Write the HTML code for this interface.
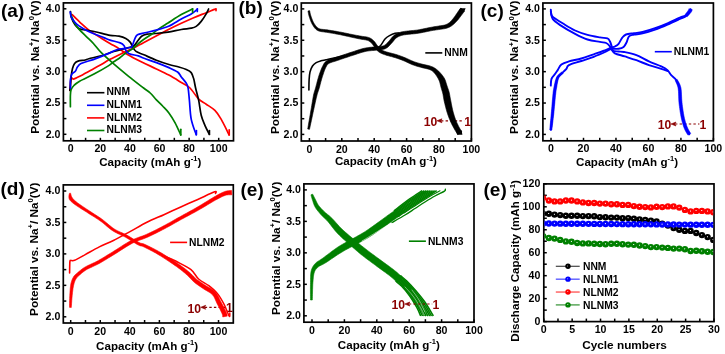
<!DOCTYPE html>
<html><head><meta charset="utf-8"><style>
html,body{margin:0;padding:0;background:#fff;}
svg{display:block;will-change:transform;}
text{font-family:"Liberation Sans", sans-serif;font-weight:bold;}
</style></head><body>
<svg width="725" height="354" viewBox="0 0 725 354">
<defs>
<radialGradient id="gk" cx="0.47" cy="0.45" r="0.5"><stop offset="0" stop-color="#fff"/><stop offset="0.02" stop-color="#fff"/><stop offset="0.3" stop-color="#000"/><stop offset="1" stop-color="#000"/></radialGradient>
<radialGradient id="gb" cx="0.47" cy="0.45" r="0.5"><stop offset="0" stop-color="#fff"/><stop offset="0.02" stop-color="#fff"/><stop offset="0.3" stop-color="#0000ff"/><stop offset="1" stop-color="#0000ff"/></radialGradient>
<radialGradient id="gr" cx="0.47" cy="0.45" r="0.5"><stop offset="0" stop-color="#fff"/><stop offset="0.02" stop-color="#fff"/><stop offset="0.3" stop-color="#ff0000"/><stop offset="1" stop-color="#ff0000"/></radialGradient>
<radialGradient id="gg" cx="0.47" cy="0.45" r="0.5"><stop offset="0" stop-color="#fff"/><stop offset="0.02" stop-color="#fff"/><stop offset="0.3" stop-color="#008000"/><stop offset="1" stop-color="#008000"/></radialGradient>
<clipPath id="cf"><rect x="544.5" y="184.7" width="168.7" height="136.2"/></clipPath>
</defs>
<rect width="725" height="354" fill="#fff"/>
<line x1="70.80" y1="140.8" x2="70.80" y2="137.8" stroke="#000" stroke-width="1.5"/>
<line x1="100.38" y1="140.8" x2="100.38" y2="137.8" stroke="#000" stroke-width="1.5"/>
<line x1="129.96" y1="140.8" x2="129.96" y2="137.8" stroke="#000" stroke-width="1.5"/>
<line x1="159.54" y1="140.8" x2="159.54" y2="137.8" stroke="#000" stroke-width="1.5"/>
<line x1="189.13" y1="140.8" x2="189.13" y2="137.8" stroke="#000" stroke-width="1.5"/>
<line x1="218.71" y1="140.8" x2="218.71" y2="137.8" stroke="#000" stroke-width="1.5"/>
<line x1="85.59" y1="140.8" x2="85.59" y2="137.8" stroke="#000" stroke-width="1.5"/>
<line x1="115.17" y1="140.8" x2="115.17" y2="137.8" stroke="#000" stroke-width="1.5"/>
<line x1="144.75" y1="140.8" x2="144.75" y2="137.8" stroke="#000" stroke-width="1.5"/>
<line x1="174.33" y1="140.8" x2="174.33" y2="137.8" stroke="#000" stroke-width="1.5"/>
<line x1="203.92" y1="140.8" x2="203.92" y2="137.8" stroke="#000" stroke-width="1.5"/>
<line x1="63.4" y1="134.30" x2="66.4" y2="134.30" stroke="#000" stroke-width="1.5"/>
<line x1="63.4" y1="102.93" x2="66.4" y2="102.93" stroke="#000" stroke-width="1.5"/>
<line x1="63.4" y1="71.55" x2="66.4" y2="71.55" stroke="#000" stroke-width="1.5"/>
<line x1="63.4" y1="40.17" x2="66.4" y2="40.17" stroke="#000" stroke-width="1.5"/>
<line x1="63.4" y1="8.80" x2="66.4" y2="8.80" stroke="#000" stroke-width="1.5"/>
<line x1="63.4" y1="118.61" x2="66.4" y2="118.61" stroke="#000" stroke-width="1.5"/>
<line x1="63.4" y1="87.24" x2="66.4" y2="87.24" stroke="#000" stroke-width="1.5"/>
<line x1="63.4" y1="55.86" x2="66.4" y2="55.86" stroke="#000" stroke-width="1.5"/>
<line x1="63.4" y1="24.49" x2="66.4" y2="24.49" stroke="#000" stroke-width="1.5"/>
<rect x="63.4" y="2.9" width="170.1" height="137.9" fill="none" stroke="#000" stroke-width="1.7"/>
<text x="70.80" y="152.3" font-size="10.6" text-anchor="middle" fill="#000" >0</text>
<text x="100.38" y="152.3" font-size="10.6" text-anchor="middle" fill="#000" >20</text>
<text x="129.96" y="152.3" font-size="10.6" text-anchor="middle" fill="#000" >40</text>
<text x="159.54" y="152.3" font-size="10.6" text-anchor="middle" fill="#000" >60</text>
<text x="189.13" y="152.3" font-size="10.6" text-anchor="middle" fill="#000" >80</text>
<text x="218.71" y="152.3" font-size="10.6" text-anchor="middle" fill="#000" >100</text>
<text x="60.40" y="137.70" font-size="10.6" text-anchor="end" fill="#000" >2.0</text>
<text x="60.40" y="106.33" font-size="10.6" text-anchor="end" fill="#000" >2.5</text>
<text x="60.40" y="74.95" font-size="10.6" text-anchor="end" fill="#000" >3.0</text>
<text x="60.40" y="43.57" font-size="10.6" text-anchor="end" fill="#000" >3.5</text>
<text x="60.40" y="12.20" font-size="10.6" text-anchor="end" fill="#000" >4.0</text>
<text x="150.25" y="165.60" font-size="11.6" text-anchor="middle">Capacity (mAh g<tspan font-size="7.5" dy="-4.5">-1</tspan><tspan dy="4.5">)</tspan></text>
<text transform="translate(38.80,67.15) rotate(-90)" x="0" y="0" font-size="11.75" text-anchor="middle">Potential vs. Na<tspan font-size="7.6" dy="-4.4">+</tspan><tspan dy="4.4">/ Na</tspan><tspan font-size="7.6" dy="-4.4">0</tspan><tspan dy="4.4">(V)</tspan></text>
<text x="1.0" y="16.6" font-size="19" text-anchor="start" fill="#000" >(a)</text>
<path d="M72.10,14.60C73.45,15.93 77.40,20.02 80.20,22.60C83.00,25.18 85.38,27.50 88.90,30.10C92.42,32.70 97.78,35.97 101.30,38.20C104.82,40.43 107.05,41.77 110.00,43.50C112.95,45.23 116.17,46.82 119.00,48.60C121.83,50.38 123.22,51.97 127.00,54.20C130.78,56.43 136.80,59.55 141.70,62.00C146.60,64.45 151.87,66.72 156.40,68.90C160.93,71.08 164.75,72.83 168.90,75.10C173.05,77.37 177.78,80.35 181.30,82.50C184.82,84.65 187.10,85.22 190.00,88.00C192.90,90.78 196.00,96.50 198.70,99.20C201.40,101.90 203.50,102.33 206.20,104.20C208.90,106.07 212.42,107.92 214.90,110.40C217.38,112.88 218.73,115.03 221.10,119.10C223.47,123.17 227.77,132.18 229.10,134.80" fill="none" stroke="#ff0000" stroke-width="1.7" stroke-linejoin="round" stroke-linecap="round" />
<path d="M69.90,90.40C70.10,88.40 70.55,80.28 71.10,78.40C71.65,76.52 72.27,79.22 73.20,79.10C74.13,78.98 75.17,78.40 76.70,77.70C78.23,77.00 79.52,76.43 82.40,74.90C85.28,73.37 90.85,70.23 94.00,68.50C97.15,66.77 98.63,66.03 101.30,64.50C103.97,62.97 106.67,61.10 110.00,59.30C113.33,57.50 117.47,55.53 121.30,53.70C125.13,51.87 129.23,50.18 133.00,48.30C136.77,46.42 139.65,44.65 143.90,42.40C148.15,40.15 154.40,36.95 158.50,34.80C162.60,32.65 164.70,31.42 168.50,29.50C172.30,27.58 177.10,25.27 181.30,23.30C185.50,21.33 189.55,19.47 193.70,17.70C197.85,15.93 202.88,14.05 206.20,12.70C209.52,11.35 212.05,10.22 213.60,9.60C215.15,8.98 215.18,9.10 215.50,9.00" fill="none" stroke="#ff0000" stroke-width="1.7" stroke-linejoin="round" stroke-linecap="round" />
<path d="M70.50,11.50C70.67,12.53 70.72,15.43 71.50,17.70C72.28,19.97 73.87,23.23 75.20,25.10C76.53,26.97 77.63,28.07 79.50,28.90C81.37,29.73 83.60,29.58 86.40,30.10C89.20,30.62 92.37,31.13 96.30,32.00C100.23,32.87 106.22,34.62 110.00,35.30C113.78,35.98 116.37,35.58 119.00,36.10C121.63,36.62 123.90,37.35 125.80,38.40C127.70,39.45 129.27,40.98 130.40,42.40C131.53,43.82 131.67,45.40 132.60,46.90C133.53,48.40 134.12,50.08 136.00,51.40C137.88,52.72 140.50,53.33 143.90,54.80C147.30,56.27 152.23,58.58 156.40,60.20C160.57,61.82 165.17,63.37 168.90,64.50C172.63,65.63 175.90,66.17 178.80,67.00C181.70,67.83 184.23,68.57 186.30,69.50C188.37,70.43 189.97,71.05 191.20,72.60C192.43,74.15 192.97,76.23 193.70,78.80C194.43,81.37 194.77,84.40 195.60,88.00C196.43,91.60 197.77,95.85 198.70,100.40C199.63,104.95 200.17,111.15 201.20,115.30C202.23,119.45 203.55,122.15 204.90,125.30C206.25,128.45 208.57,132.72 209.30,134.20" fill="none" stroke="#000000" stroke-width="1.7" stroke-linejoin="round" stroke-linecap="round" />
<path d="M69.90,90.40C69.98,89.67 70.20,88.23 70.40,86.00C70.60,83.77 70.75,79.92 71.10,77.00C71.45,74.08 71.92,70.75 72.50,68.50C73.08,66.25 73.67,64.73 74.60,63.50C75.53,62.27 76.33,61.68 78.10,61.10C79.87,60.52 83.40,60.40 85.20,60.00C87.00,59.60 86.22,59.40 88.90,58.70C91.58,58.00 97.17,57.00 101.30,55.80C105.43,54.60 109.80,52.70 113.70,51.50C117.60,50.30 121.73,49.38 124.70,48.60C127.67,47.82 129.87,47.35 131.50,46.80C133.13,46.25 133.38,46.38 134.50,45.30C135.62,44.22 137.02,41.82 138.20,40.30C139.38,38.78 140.13,37.22 141.60,36.20C143.07,35.18 144.75,34.65 147.00,34.20C149.25,33.75 151.60,33.85 155.10,33.50C158.60,33.15 163.63,32.77 168.00,32.10C172.37,31.43 177.43,30.15 181.30,29.50C185.17,28.85 188.72,28.72 191.20,28.20C193.68,27.68 194.53,27.53 196.20,26.40C197.87,25.27 199.53,23.48 201.20,21.40C202.87,19.32 204.97,15.97 206.20,13.90C207.43,11.83 208.20,9.82 208.60,9.00" fill="none" stroke="#000000" stroke-width="1.7" stroke-linejoin="round" stroke-linecap="round" />
<path d="M70.80,14.70C71.37,15.92 72.88,19.63 74.20,22.00C75.52,24.37 76.63,26.43 78.70,28.90C80.77,31.37 84.15,34.37 86.60,36.80C89.05,39.23 90.95,40.85 93.40,43.50C95.85,46.15 97.92,49.30 101.30,52.70C104.68,56.10 109.15,59.97 113.70,63.90C118.25,67.83 123.62,72.28 128.60,76.30C133.58,80.32 140.00,85.22 143.60,88.00C147.20,90.78 148.07,91.03 150.20,93.00C152.33,94.97 154.33,97.63 156.40,99.80C158.47,101.97 160.52,103.82 162.60,106.00C164.68,108.18 166.82,110.10 168.90,112.90C170.98,115.70 173.13,119.15 175.10,122.80C177.07,126.45 179.77,132.80 180.70,134.80" fill="none" stroke="#008000" stroke-width="1.7" stroke-linejoin="round" stroke-linecap="round" />
<path d="M70.40,106.70C70.40,104.82 70.28,98.23 70.40,95.40C70.52,92.57 70.52,91.35 71.10,89.70C71.68,88.05 72.48,86.92 73.90,85.50C75.32,84.08 76.25,83.10 79.60,81.20C82.95,79.30 89.35,76.57 94.00,74.10C98.65,71.63 104.27,68.42 107.50,66.40C110.73,64.38 111.33,63.45 113.40,62.00C115.47,60.55 118.02,59.07 119.90,57.70C121.78,56.33 122.77,55.17 124.70,53.80C126.63,52.43 130.05,50.47 131.50,49.50C132.95,48.53 131.72,49.42 133.40,48.00C135.08,46.58 138.55,43.30 141.60,41.00C144.65,38.70 148.88,36.18 151.70,34.20C154.52,32.22 155.78,30.97 158.50,29.10C161.22,27.23 164.20,25.42 168.00,23.00C171.80,20.58 177.22,16.93 181.30,14.60C185.38,12.27 190.63,9.93 192.50,9.00" fill="none" stroke="#008000" stroke-width="1.7" stroke-linejoin="round" stroke-linecap="round" />
<path d="M70.20,12.10C70.42,13.03 70.47,15.73 71.50,17.70C72.53,19.67 74.33,22.03 76.40,23.90C78.47,25.77 81.20,27.35 83.90,28.90C86.60,30.45 89.28,31.75 92.60,33.20C95.92,34.65 100.90,36.45 103.80,37.60C106.70,38.75 107.27,39.22 110.00,40.10C112.73,40.98 117.85,41.95 120.20,42.90C122.55,43.85 123.17,44.57 124.10,45.80C125.03,47.03 124.95,48.98 125.80,50.30C126.65,51.62 127.12,52.77 129.20,53.70C131.28,54.63 135.83,55.13 138.30,55.90C140.77,56.67 140.98,57.18 144.00,58.30C147.02,59.42 152.25,61.05 156.40,62.60C160.55,64.15 165.37,66.03 168.90,67.60C172.43,69.17 175.53,70.45 177.60,72.00C179.67,73.55 179.85,75.03 181.30,76.90C182.75,78.77 185.17,81.35 186.30,83.20C187.43,85.05 187.58,85.13 188.10,88.00C188.62,90.87 188.88,95.22 189.40,100.40C189.92,105.58 190.07,113.37 191.20,119.10C192.33,124.83 195.37,132.18 196.20,134.80" fill="none" stroke="#0000ff" stroke-width="1.7" stroke-linejoin="round" stroke-linecap="round" />
<path d="M70.40,88.30C70.40,86.88 70.17,82.17 70.40,79.80C70.63,77.43 70.98,75.52 71.80,74.10C72.62,72.68 74.37,72.47 75.30,71.30C76.23,70.13 76.45,68.40 77.40,67.10C78.35,65.80 78.98,64.57 81.00,63.50C83.02,62.43 87.15,61.47 89.50,60.70C91.85,59.93 92.10,60.03 95.10,58.90C98.10,57.77 103.88,55.43 107.50,53.90C111.12,52.37 114.12,50.58 116.80,49.70C119.48,48.82 121.33,48.97 123.60,48.60C125.87,48.23 128.98,47.90 130.40,47.50C131.82,47.10 131.37,47.63 132.10,46.20C132.83,44.77 133.90,40.80 134.80,38.90C135.70,37.00 135.80,35.82 137.50,34.80C139.20,33.78 142.07,33.53 145.00,32.80C147.93,32.07 151.18,31.48 155.10,30.40C159.02,29.32 164.13,28.22 168.50,26.30C172.87,24.38 177.52,20.97 181.30,18.90C185.08,16.83 188.72,15.35 191.20,13.90C193.68,12.45 195.17,11.02 196.20,10.20C197.23,9.38 197.20,9.20 197.40,9.00" fill="none" stroke="#0000ff" stroke-width="1.7" stroke-linejoin="round" stroke-linecap="round" />
<line x1="180.8" y1="129.3" x2="180.8" y2="134.9" stroke="#008000" stroke-width="1.7" stroke-linecap="round"/>
<line x1="196.4" y1="130.6" x2="196.4" y2="134.6" stroke="#0000ff" stroke-width="1.7" stroke-linecap="round"/>
<line x1="209.4" y1="130.6" x2="209.4" y2="134.4" stroke="#000000" stroke-width="1.7" stroke-linecap="round"/>
<line x1="229.2" y1="129.8" x2="229.2" y2="134.9" stroke="#ff0000" stroke-width="1.7" stroke-linecap="round"/>
<line x1="192.6" y1="8.8" x2="192.6" y2="12.4" stroke="#008000" stroke-width="1.7" stroke-linecap="round"/>
<line x1="197.3" y1="8.8" x2="197.3" y2="11.4" stroke="#0000ff" stroke-width="1.7" stroke-linecap="round"/>
<line x1="216.0" y1="8.8" x2="216.0" y2="10.6" stroke="#ff0000" stroke-width="1.7" stroke-linecap="round"/>
<line x1="87" y1="92.70" x2="104.4" y2="92.70" stroke="#000000" stroke-width="1.6"/>
<text x="106.6" y="95.30" font-size="10.3" text-anchor="start" fill="#000" >NNM</text>
<line x1="87" y1="105.30" x2="104.4" y2="105.30" stroke="#0000ff" stroke-width="1.6"/>
<text x="106.6" y="107.90" font-size="10.3" text-anchor="start" fill="#000" >NLNM1</text>
<line x1="87" y1="117.90" x2="104.4" y2="117.90" stroke="#ff0000" stroke-width="1.6"/>
<text x="106.6" y="120.50" font-size="10.3" text-anchor="start" fill="#000" >NLNM2</text>
<line x1="87" y1="130.50" x2="104.4" y2="130.50" stroke="#008000" stroke-width="1.6"/>
<text x="106.6" y="133.10" font-size="10.3" text-anchor="start" fill="#000" >NLNM3</text>
<line x1="309.40" y1="141.0" x2="309.40" y2="138.0" stroke="#000" stroke-width="1.5"/>
<line x1="341.80" y1="141.0" x2="341.80" y2="138.0" stroke="#000" stroke-width="1.5"/>
<line x1="374.20" y1="141.0" x2="374.20" y2="138.0" stroke="#000" stroke-width="1.5"/>
<line x1="406.60" y1="141.0" x2="406.60" y2="138.0" stroke="#000" stroke-width="1.5"/>
<line x1="439.00" y1="141.0" x2="439.00" y2="138.0" stroke="#000" stroke-width="1.5"/>
<line x1="471.40" y1="141.0" x2="471.40" y2="138.0" stroke="#000" stroke-width="1.5"/>
<line x1="325.60" y1="141.0" x2="325.60" y2="138.0" stroke="#000" stroke-width="1.5"/>
<line x1="358.00" y1="141.0" x2="358.00" y2="138.0" stroke="#000" stroke-width="1.5"/>
<line x1="390.40" y1="141.0" x2="390.40" y2="138.0" stroke="#000" stroke-width="1.5"/>
<line x1="422.80" y1="141.0" x2="422.80" y2="138.0" stroke="#000" stroke-width="1.5"/>
<line x1="455.20" y1="141.0" x2="455.20" y2="138.0" stroke="#000" stroke-width="1.5"/>
<line x1="301.3" y1="134.40" x2="304.3" y2="134.40" stroke="#000" stroke-width="1.5"/>
<line x1="301.3" y1="103.03" x2="304.3" y2="103.03" stroke="#000" stroke-width="1.5"/>
<line x1="301.3" y1="71.65" x2="304.3" y2="71.65" stroke="#000" stroke-width="1.5"/>
<line x1="301.3" y1="40.28" x2="304.3" y2="40.28" stroke="#000" stroke-width="1.5"/>
<line x1="301.3" y1="8.90" x2="304.3" y2="8.90" stroke="#000" stroke-width="1.5"/>
<line x1="301.3" y1="118.71" x2="304.3" y2="118.71" stroke="#000" stroke-width="1.5"/>
<line x1="301.3" y1="87.34" x2="304.3" y2="87.34" stroke="#000" stroke-width="1.5"/>
<line x1="301.3" y1="55.96" x2="304.3" y2="55.96" stroke="#000" stroke-width="1.5"/>
<line x1="301.3" y1="24.59" x2="304.3" y2="24.59" stroke="#000" stroke-width="1.5"/>
<rect x="301.3" y="3.0" width="170.09999999999997" height="138.0" fill="none" stroke="#000" stroke-width="1.7"/>
<text x="309.40" y="152.5" font-size="10.6" text-anchor="middle" fill="#000" >0</text>
<text x="341.80" y="152.5" font-size="10.6" text-anchor="middle" fill="#000" >20</text>
<text x="374.20" y="152.5" font-size="10.6" text-anchor="middle" fill="#000" >40</text>
<text x="406.60" y="152.5" font-size="10.6" text-anchor="middle" fill="#000" >60</text>
<text x="439.00" y="152.5" font-size="10.6" text-anchor="middle" fill="#000" >80</text>
<text x="471.40" y="152.5" font-size="10.6" text-anchor="middle" fill="#000" >100</text>
<text x="298.30" y="137.80" font-size="10.6" text-anchor="end" fill="#000" >2.0</text>
<text x="298.30" y="106.43" font-size="10.6" text-anchor="end" fill="#000" >2.5</text>
<text x="298.30" y="75.05" font-size="10.6" text-anchor="end" fill="#000" >3.0</text>
<text x="298.30" y="43.68" font-size="10.6" text-anchor="end" fill="#000" >3.5</text>
<text x="298.30" y="12.30" font-size="10.6" text-anchor="end" fill="#000" >4.0</text>
<text x="385.95" y="165.40" font-size="11.6" text-anchor="middle">Capacity (mAh g<tspan font-size="7.5" dy="-4.5">-1</tspan><tspan dy="4.5">)</tspan></text>
<text transform="translate(278.50,67.30) rotate(-90)" x="0" y="0" font-size="11.75" text-anchor="middle">Potential vs. Na<tspan font-size="7.6" dy="-4.4">+</tspan><tspan dy="4.4">/ Na</tspan><tspan font-size="7.6" dy="-4.4">0</tspan><tspan dy="4.4">(V)</tspan></text>
<text x="238.5" y="13.9" font-size="19" text-anchor="start" fill="#000" >(b)</text>
<text x="423.80" y="126.00" font-size="12.2" text-anchor="start" fill="#8b0000" >10</text>
<path d="M437.00,120.80 L442.00,118.80 L440.80,120.80 L442.00,122.80Z" fill="#8b0000" stroke="#8b0000" stroke-width="0.6"/>
<line x1="441.00" y1="120.80" x2="464.10" y2="120.80" stroke="#8b0000" stroke-width="1.2" stroke-dasharray="2.4,2.2"/>
<text x="464.30" y="125.80" font-size="12.2" text-anchor="start" fill="#8b0000" >1</text>
<path d="M307.97,10.97 L308.05,11.39 L308.14,11.92 L308.26,12.57 L308.40,13.31 L308.56,14.11 L308.76,14.95 L308.98,15.82 L309.24,16.68 L309.52,17.55 L309.83,18.49 L310.17,19.48 L310.53,20.49 L310.93,21.52 L311.37,22.53 L311.84,23.50 L312.34,24.41 L312.85,25.26 L313.37,26.10 L313.92,26.94 L314.52,27.75 L315.18,28.53 L315.92,29.27 L316.74,29.94 L317.67,30.52 L318.69,30.98 L319.74,31.31 L320.83,31.54 L321.94,31.71 L323.08,31.85 L324.24,31.98 L325.44,32.13 L326.70,32.33 L328.06,32.57 L329.53,32.82 L331.06,33.08 L332.64,33.34 L334.25,33.61 L335.87,33.89 L337.48,34.18 L339.06,34.48 L340.64,34.80 L342.28,35.15 L343.94,35.52 L345.61,35.89 L347.24,36.27 L348.82,36.62 L350.32,36.96 L351.71,37.27 L352.98,37.55 L354.16,37.80 L355.25,38.04 L356.29,38.26 L357.29,38.47 L358.26,38.67 L359.24,38.87 L360.24,39.08 L361.27,39.26 L362.31,39.41 L363.32,39.55 L364.29,39.69 L365.21,39.82 L366.06,39.98 L366.82,40.16 L367.50,40.37 L368.11,40.61 L368.66,40.87 L369.16,41.15 L369.62,41.45 L370.07,41.78 L370.50,42.14 L370.95,42.54 L371.39,42.95 L371.79,43.36 L372.18,43.82 L372.56,44.33 L372.95,44.89 L373.35,45.48 L373.76,46.08 L374.19,46.69 L374.63,47.27 L375.03,47.79 L375.40,48.30 L375.78,48.83 L376.19,49.38 L376.63,49.94 L377.13,50.50 L377.70,51.05 L378.33,51.57 L378.96,52.03 L379.60,52.44 L380.27,52.83 L380.97,53.19 L381.73,53.54 L382.55,53.89 L383.46,54.24 L384.48,54.61 L385.66,55.01 L387.00,55.41 L388.43,55.80 L389.91,56.20 L391.41,56.60 L392.87,57.00 L394.25,57.39 L395.51,57.78 L396.67,58.15 L397.77,58.52 L398.82,58.89 L399.84,59.25 L400.84,59.63 L401.83,60.01 L402.84,60.41 L403.87,60.83 L404.90,61.27 L405.93,61.74 L406.98,62.24 L408.04,62.75 L409.11,63.26 L410.20,63.76 L411.29,64.24 L412.39,64.69 L413.49,65.09 L414.57,65.46 L415.64,65.81 L416.71,66.13 L417.77,66.45 L418.83,66.75 L419.89,67.04 L420.96,67.34 L422.07,67.64 L423.22,67.92 L424.38,68.18 L425.51,68.44 L426.60,68.69 L427.62,68.94 L428.53,69.20 L429.34,69.46 L430.02,69.74 L430.62,70.01 L431.13,70.27 L431.58,70.53 L432.00,70.81 L432.40,71.11 L432.83,71.45 L433.29,71.83 L433.73,72.26 L434.15,72.71 L434.57,73.19 L434.98,73.70 L435.39,74.24 L435.80,74.79 L436.20,75.37 L436.60,75.97 L437.00,76.60 L437.40,77.24 L437.79,77.89 L438.16,78.56 L438.51,79.22 L438.83,79.89 L439.11,80.55 L439.36,81.20 L439.60,81.83 L439.81,82.50 L440.01,83.22 L440.20,83.98 L440.39,84.79 L440.59,85.64 L440.80,86.52 L441.03,87.40 L441.28,88.26 L441.53,89.09 L441.78,89.90 L442.02,90.70 L442.25,91.48 L442.47,92.25 L442.67,93.01 L442.84,93.77 L443.00,94.50 L443.14,95.21 L443.26,95.95 L443.38,96.73 L443.51,97.57 L443.66,98.51 L443.85,99.54 L444.07,100.67 L444.37,101.90 L444.69,103.25 L445.04,104.70 L445.41,106.21 L445.80,107.74 L446.20,109.25 L446.60,110.72 L447.01,112.10 L447.42,113.39 L447.84,114.64 L448.26,115.85 L448.70,117.03 L449.14,118.17 L449.59,119.28 L450.04,120.36 L450.50,121.41 L450.96,122.46 L451.44,123.48 L451.92,124.47 L452.40,125.42 L452.89,126.33 L453.36,127.21 L453.83,128.06 L454.30,128.89 L454.78,129.73 L455.28,130.58 L455.79,131.41 L456.28,132.19 L456.75,132.91 L457.16,133.54 L457.50,134.06 L457.76,134.46 L461.84,131.94 L461.60,131.51 L461.27,130.96 L460.88,130.33 L460.45,129.62 L460.00,128.86 L459.55,128.08 L459.11,127.29 L458.70,126.51 L458.30,125.71 L457.90,124.87 L457.48,124.01 L457.07,123.13 L456.67,122.23 L456.27,121.31 L455.88,120.36 L455.50,119.39 L455.14,118.37 L454.78,117.33 L454.43,116.27 L454.09,115.17 L453.75,114.05 L453.42,112.90 L453.10,111.72 L452.79,110.50 L452.48,109.20 L452.17,107.80 L451.86,106.33 L451.56,104.83 L451.27,103.34 L451.00,101.90 L450.75,100.54 L450.53,99.33 L450.31,98.29 L450.14,97.36 L449.99,96.50 L449.85,95.67 L449.70,94.85 L449.55,94.02 L449.37,93.14 L449.16,92.23 L448.90,91.32 L448.63,90.43 L448.35,89.58 L448.06,88.74 L447.78,87.93 L447.50,87.14 L447.23,86.36 L446.97,85.60 L446.72,84.85 L446.48,84.06 L446.24,83.24 L445.99,82.39 L445.71,81.51 L445.40,80.61 L445.05,79.70 L444.64,78.80 L444.16,77.96 L443.66,77.16 L443.13,76.39 L442.59,75.66 L442.04,74.95 L441.49,74.28 L440.94,73.64 L440.40,73.03 L439.85,72.43 L439.30,71.85 L438.73,71.28 L438.15,70.72 L437.56,70.19 L436.96,69.69 L436.33,69.21 L435.71,68.77 L435.13,68.36 L434.56,67.98 L433.99,67.63 L433.38,67.30 L432.74,67.00 L432.05,66.71 L431.31,66.43 L430.46,66.14 L429.51,65.85 L428.48,65.57 L427.39,65.32 L426.26,65.07 L425.12,64.83 L423.99,64.58 L422.90,64.33 L421.84,64.06 L420.80,63.77 L419.76,63.48 L418.72,63.18 L417.69,62.88 L416.66,62.56 L415.64,62.23 L414.62,61.88 L413.61,61.51 L412.59,61.11 L411.57,60.68 L410.53,60.21 L409.47,59.72 L408.40,59.22 L407.32,58.72 L406.23,58.23 L405.13,57.77 L404.07,57.35 L403.03,56.94 L402.01,56.54 L400.98,56.16 L399.92,55.78 L398.84,55.40 L397.70,55.02 L396.49,54.62 L395.17,54.23 L393.73,53.84 L392.24,53.45 L390.74,53.06 L389.27,52.68 L387.88,52.30 L386.61,51.94 L385.52,51.59 L384.58,51.25 L383.75,50.92 L383.02,50.62 L382.38,50.32 L381.81,50.02 L381.28,49.71 L380.77,49.38 L380.27,49.03 L379.83,48.67 L379.45,48.29 L379.08,47.88 L378.73,47.43 L378.37,46.95 L377.99,46.43 L377.59,45.87 L377.17,45.33 L376.77,44.81 L376.39,44.26 L376.00,43.68 L375.59,43.07 L375.15,42.45 L374.68,41.83 L374.16,41.22 L373.61,40.65 L373.07,40.16 L372.54,39.71 L371.98,39.27 L371.39,38.85 L370.75,38.45 L370.06,38.08 L369.32,37.74 L368.50,37.43 L367.60,37.17 L366.66,36.96 L365.69,36.80 L364.71,36.66 L363.71,36.54 L362.72,36.42 L361.74,36.28 L360.76,36.12 L359.79,35.95 L358.83,35.78 L357.85,35.60 L356.86,35.42 L355.83,35.22 L354.73,35.01 L353.56,34.78 L352.29,34.53 L350.90,34.25 L349.41,33.94 L347.82,33.60 L346.18,33.26 L344.51,32.90 L342.82,32.56 L341.16,32.23 L339.54,31.92 L337.94,31.63 L336.31,31.35 L334.68,31.08 L333.06,30.82 L331.47,30.57 L329.94,30.33 L328.48,30.10 L327.10,29.87 L325.78,29.68 L324.51,29.54 L323.33,29.43 L322.23,29.33 L321.23,29.20 L320.31,29.03 L319.48,28.80 L318.73,28.48 L318.03,28.07 L317.37,27.59 L316.76,27.02 L316.18,26.39 L315.63,25.69 L315.09,24.95 L314.57,24.17 L314.06,23.39 L313.58,22.58 L313.13,21.70 L312.71,20.77 L312.30,19.81 L311.93,18.84 L311.58,17.88 L311.25,16.97 L310.96,16.12 L310.70,15.32 L310.48,14.52 L310.28,13.72 L310.11,12.95 L309.97,12.24 L309.84,11.60 L309.73,11.05 L309.63,10.63Z" fill="#000000" stroke="#000000" stroke-width="0.6" stroke-linejoin="round"/>
<path d="M309.48,129.37 L309.82,127.87 L310.27,125.83 L310.78,123.40 L311.35,120.72 L311.94,117.92 L312.52,115.15 L313.08,112.55 L313.58,110.25 L314.03,108.16 L314.47,106.12 L314.90,104.14 L315.32,102.25 L315.72,100.45 L316.11,98.76 L316.49,97.20 L316.86,95.78 L317.16,94.58 L317.44,93.61 L317.69,92.80 L317.94,92.07 L318.20,91.33 L318.48,90.53 L318.79,89.60 L319.13,88.49 L319.49,87.20 L319.86,85.79 L320.24,84.30 L320.64,82.76 L321.05,81.21 L321.47,79.69 L321.89,78.22 L322.31,76.85 L322.74,75.50 L323.19,74.15 L323.64,72.81 L324.11,71.51 L324.57,70.27 L325.03,69.12 L325.48,68.09 L325.92,67.17 L326.33,66.38 L326.69,65.73 L327.00,65.22 L327.28,64.83 L327.56,64.51 L327.91,64.19 L328.36,63.85 L328.96,63.47 L329.65,63.09 L330.42,62.75 L331.29,62.43 L332.27,62.11 L333.36,61.77 L334.57,61.40 L335.90,60.99 L337.34,60.51 L338.93,59.97 L340.68,59.37 L342.56,58.73 L344.52,58.07 L346.52,57.40 L348.50,56.74 L350.42,56.11 L352.23,55.52 L353.97,54.95 L355.69,54.38 L357.37,53.82 L359.02,53.29 L360.62,52.78 L362.17,52.32 L363.66,51.91 L365.08,51.56 L366.44,51.27 L367.77,51.05 L369.06,50.87 L370.32,50.73 L371.54,50.61 L372.73,50.51 L373.88,50.40 L374.97,50.29 L375.97,50.19 L376.90,50.12 L377.79,50.07 L378.65,50.02 L379.49,49.97 L380.31,49.90 L381.13,49.81 L381.92,49.67 L382.64,49.52 L383.30,49.37 L383.93,49.20 L384.56,49.00 L385.19,48.75 L385.81,48.46 L386.43,48.11 L387.08,47.69 L387.73,47.19 L388.37,46.64 L388.99,46.05 L389.59,45.43 L390.17,44.80 L390.74,44.17 L391.29,43.56 L391.86,42.94 L392.45,42.28 L393.02,41.58 L393.57,40.88 L394.10,40.21 L394.62,39.57 L395.13,38.99 L395.64,38.48 L396.15,38.03 L396.71,37.63 L397.29,37.26 L397.90,36.91 L398.54,36.59 L399.19,36.30 L399.88,36.02 L400.59,35.76 L401.31,35.52 L402.02,35.31 L402.71,35.14 L403.42,35.00 L404.17,34.87 L404.97,34.76 L405.84,34.64 L406.79,34.52 L407.81,34.39 L408.89,34.26 L410.02,34.15 L411.23,34.04 L412.51,33.94 L413.86,33.82 L415.27,33.67 L416.74,33.50 L418.26,33.28 L419.89,33.00 L421.64,32.67 L423.47,32.31 L425.33,31.93 L427.16,31.54 L428.92,31.18 L430.55,30.85 L432.01,30.57 L433.30,30.35 L434.48,30.16 L435.57,30.00 L436.58,29.86 L437.54,29.72 L438.47,29.60 L439.38,29.47 L440.28,29.33 L441.14,29.20 L441.95,29.08 L442.74,28.98 L443.52,28.87 L444.28,28.74 L445.04,28.60 L445.80,28.43 L446.54,28.22 L447.25,28.00 L447.91,27.76 L448.56,27.51 L449.19,27.23 L449.81,26.92 L450.43,26.57 L451.04,26.19 L451.67,25.76 L452.32,25.29 L452.97,24.78 L453.61,24.23 L454.25,23.66 L454.87,23.07 L455.48,22.47 L456.07,21.86 L456.66,21.24 L457.25,20.58 L457.84,19.88 L458.42,19.17 L458.98,18.45 L459.52,17.76 L460.03,17.09 L460.50,16.48 L460.94,15.91 L461.35,15.37 L461.74,14.84 L462.10,14.35 L462.44,13.89 L462.74,13.48 L463.01,13.11 L463.26,12.80 L463.46,12.55 L463.62,12.36 L463.74,12.22 L463.84,12.12 L463.93,12.04 L464.01,11.97 L464.11,11.88 L464.26,11.76 L464.39,11.64 L461.01,7.96 L460.97,7.99 L460.92,8.04 L460.78,8.16 L460.58,8.32 L460.35,8.54 L460.10,8.80 L459.82,9.11 L459.54,9.45 L459.26,9.83 L458.99,10.23 L458.71,10.65 L458.41,11.09 L458.11,11.56 L457.78,12.04 L457.44,12.55 L457.06,13.09 L456.65,13.69 L456.21,14.35 L455.75,15.03 L455.27,15.73 L454.78,16.43 L454.30,17.11 L453.81,17.76 L453.34,18.36 L452.85,18.96 L452.34,19.56 L451.83,20.15 L451.32,20.72 L450.81,21.26 L450.30,21.76 L449.81,22.22 L449.33,22.64 L448.85,23.01 L448.39,23.33 L447.94,23.62 L447.50,23.88 L447.03,24.13 L446.55,24.35 L446.02,24.57 L445.46,24.78 L444.88,24.96 L444.28,25.11 L443.64,25.24 L442.96,25.36 L442.23,25.48 L441.44,25.60 L440.60,25.73 L439.72,25.87 L438.84,26.02 L437.96,26.16 L437.05,26.30 L436.08,26.44 L435.05,26.60 L433.94,26.78 L432.72,26.99 L431.39,27.23 L429.90,27.51 L428.24,27.85 L426.47,28.22 L424.64,28.60 L422.80,28.98 L421.00,29.34 L419.29,29.66 L417.74,29.92 L416.29,30.13 L414.90,30.30 L413.54,30.43 L412.22,30.55 L410.95,30.66 L409.71,30.76 L408.52,30.88 L407.39,31.01 L406.35,31.15 L405.40,31.27 L404.50,31.39 L403.64,31.51 L402.80,31.66 L401.97,31.83 L401.13,32.03 L400.29,32.28 L399.47,32.55 L398.66,32.85 L397.86,33.17 L397.08,33.52 L396.30,33.91 L395.54,34.35 L394.79,34.83 L394.05,35.37 L393.32,35.99 L392.65,36.67 L392.03,37.37 L391.45,38.08 L390.90,38.78 L390.37,39.45 L389.86,40.07 L389.34,40.66 L388.78,41.26 L388.21,41.89 L387.66,42.51 L387.11,43.09 L386.59,43.64 L386.08,44.13 L385.59,44.56 L385.12,44.91 L384.67,45.20 L384.25,45.44 L383.84,45.63 L383.43,45.79 L382.98,45.93 L382.48,46.07 L381.91,46.20 L381.28,46.33 L380.64,46.44 L379.97,46.52 L379.24,46.58 L378.45,46.63 L377.60,46.67 L376.67,46.73 L375.68,46.81 L374.63,46.91 L373.55,47.02 L372.42,47.12 L371.23,47.22 L369.96,47.35 L368.63,47.50 L367.25,47.69 L365.81,47.93 L364.32,48.24 L362.80,48.62 L361.23,49.05 L359.62,49.53 L357.98,50.05 L356.31,50.59 L354.62,51.15 L352.91,51.72 L351.17,52.28 L349.36,52.87 L347.43,53.51 L345.44,54.17 L343.44,54.85 L341.47,55.51 L339.59,56.15 L337.83,56.75 L336.26,57.29 L334.86,57.75 L333.57,58.15 L332.37,58.52 L331.23,58.87 L330.16,59.22 L329.14,59.60 L328.16,60.04 L327.24,60.53 L326.43,61.05 L325.75,61.57 L325.14,62.12 L324.61,62.72 L324.15,63.36 L323.74,64.03 L323.34,64.77 L322.88,65.63 L322.37,66.64 L321.86,67.77 L321.34,68.99 L320.83,70.28 L320.33,71.62 L319.83,72.99 L319.35,74.37 L318.89,75.75 L318.44,77.19 L318.00,78.71 L317.57,80.28 L317.16,81.85 L316.76,83.40 L316.37,84.88 L316.01,86.26 L315.67,87.51 L315.37,88.56 L315.11,89.44 L314.86,90.21 L314.62,90.97 L314.37,91.77 L314.12,92.67 L313.84,93.74 L313.54,95.02 L313.26,96.50 L312.98,98.11 L312.68,99.84 L312.37,101.68 L312.05,103.60 L311.72,105.59 L311.38,107.65 L311.02,109.75 L310.62,112.07 L310.17,114.70 L309.68,117.49 L309.19,120.30 L308.72,123.01 L308.30,125.45 L307.96,127.51 L307.72,129.03Z" fill="#000000" stroke="#000000" stroke-width="0.6" stroke-linejoin="round"/>
<path d="M460,8.3 L465.6,8.3 L464.4,11.6 L459.2,11.2Z" fill="#000"/>
<path d="M456.2,131.5 L461.6,130.2 L462.4,134.8 L457.2,134.8Z" fill="#000"/>
<path d="M308.90,90.00C308.93,88.33 308.92,83.00 309.10,80.00C309.28,77.00 309.43,74.33 310.00,72.00C310.57,69.67 311.47,67.57 312.50,66.00C313.53,64.43 314.78,63.47 316.20,62.60C317.62,61.73 319.37,61.27 321.00,60.80C322.63,60.33 323.98,60.22 326.00,59.80C328.02,59.38 329.93,59.00 333.10,58.30C336.27,57.60 343.02,56.05 345.00,55.60" fill="none" stroke="#000000" stroke-width="1.6" stroke-linejoin="round" stroke-linecap="round" />
<path d="M376.00,48.60C376.73,48.13 378.90,47.40 380.40,45.80C381.90,44.20 383.48,40.70 385.00,39.00C386.52,37.30 387.82,36.55 389.50,35.60C391.18,34.65 393.52,33.72 395.10,33.30C396.68,32.88 398.35,33.13 399.00,33.10" fill="none" stroke="#000000" stroke-width="1.5" stroke-linejoin="round" stroke-linecap="round" />
<line x1="425.30" y1="52.90" x2="442.30" y2="52.90" stroke="#000000" stroke-width="1.6"/>
<text x="444.30" y="56.20" font-size="10.3" text-anchor="start" fill="#000" >NNM</text>
<line x1="551.02" y1="140.8" x2="551.02" y2="137.8" stroke="#000" stroke-width="1.5"/>
<line x1="583.50" y1="140.8" x2="583.50" y2="137.8" stroke="#000" stroke-width="1.5"/>
<line x1="615.97" y1="140.8" x2="615.97" y2="137.8" stroke="#000" stroke-width="1.5"/>
<line x1="648.45" y1="140.8" x2="648.45" y2="137.8" stroke="#000" stroke-width="1.5"/>
<line x1="680.92" y1="140.8" x2="680.92" y2="137.8" stroke="#000" stroke-width="1.5"/>
<line x1="713.40" y1="140.8" x2="713.40" y2="137.8" stroke="#000" stroke-width="1.5"/>
<line x1="567.26" y1="140.8" x2="567.26" y2="137.8" stroke="#000" stroke-width="1.5"/>
<line x1="599.73" y1="140.8" x2="599.73" y2="137.8" stroke="#000" stroke-width="1.5"/>
<line x1="632.21" y1="140.8" x2="632.21" y2="137.8" stroke="#000" stroke-width="1.5"/>
<line x1="664.69" y1="140.8" x2="664.69" y2="137.8" stroke="#000" stroke-width="1.5"/>
<line x1="697.16" y1="140.8" x2="697.16" y2="137.8" stroke="#000" stroke-width="1.5"/>
<line x1="542.9" y1="134.40" x2="545.9" y2="134.40" stroke="#000" stroke-width="1.5"/>
<line x1="542.9" y1="103.03" x2="545.9" y2="103.03" stroke="#000" stroke-width="1.5"/>
<line x1="542.9" y1="71.65" x2="545.9" y2="71.65" stroke="#000" stroke-width="1.5"/>
<line x1="542.9" y1="40.28" x2="545.9" y2="40.28" stroke="#000" stroke-width="1.5"/>
<line x1="542.9" y1="8.90" x2="545.9" y2="8.90" stroke="#000" stroke-width="1.5"/>
<line x1="542.9" y1="118.71" x2="545.9" y2="118.71" stroke="#000" stroke-width="1.5"/>
<line x1="542.9" y1="87.34" x2="545.9" y2="87.34" stroke="#000" stroke-width="1.5"/>
<line x1="542.9" y1="55.96" x2="545.9" y2="55.96" stroke="#000" stroke-width="1.5"/>
<line x1="542.9" y1="24.59" x2="545.9" y2="24.59" stroke="#000" stroke-width="1.5"/>
<rect x="542.9" y="3.0" width="170.5" height="137.8" fill="none" stroke="#000" stroke-width="1.7"/>
<text x="551.02" y="152.3" font-size="10.6" text-anchor="middle" fill="#000" >0</text>
<text x="583.50" y="152.3" font-size="10.6" text-anchor="middle" fill="#000" >20</text>
<text x="615.97" y="152.3" font-size="10.6" text-anchor="middle" fill="#000" >40</text>
<text x="648.45" y="152.3" font-size="10.6" text-anchor="middle" fill="#000" >60</text>
<text x="680.92" y="152.3" font-size="10.6" text-anchor="middle" fill="#000" >80</text>
<text x="713.40" y="152.3" font-size="10.6" text-anchor="middle" fill="#000" >100</text>
<text x="539.90" y="137.80" font-size="10.6" text-anchor="end" fill="#000" >2.0</text>
<text x="539.90" y="106.43" font-size="10.6" text-anchor="end" fill="#000" >2.5</text>
<text x="539.90" y="75.05" font-size="10.6" text-anchor="end" fill="#000" >3.0</text>
<text x="539.90" y="43.68" font-size="10.6" text-anchor="end" fill="#000" >3.5</text>
<text x="539.90" y="12.30" font-size="10.6" text-anchor="end" fill="#000" >4.0</text>
<text x="627.05" y="165.70" font-size="11.6" text-anchor="middle">Capacity (mAh g<tspan font-size="7.5" dy="-4.5">-1</tspan><tspan dy="4.5">)</tspan></text>
<text transform="translate(517.90,67.20) rotate(-90)" x="0" y="0" font-size="11.75" text-anchor="middle">Potential vs. Na<tspan font-size="7.6" dy="-4.4">+</tspan><tspan dy="4.4">/ Na</tspan><tspan font-size="7.6" dy="-4.4">0</tspan><tspan dy="4.4">(V)</tspan></text>
<text x="480.5" y="16.5" font-size="19" text-anchor="start" fill="#000" >(c)</text>
<text x="657.80" y="129.20" font-size="12.2" text-anchor="start" fill="#8b0000" >10</text>
<path d="M671.00,124.00 L676.00,122.00 L674.80,124.00 L676.00,126.00Z" fill="#8b0000" stroke="#8b0000" stroke-width="0.6"/>
<line x1="675.00" y1="124.00" x2="699.40" y2="124.00" stroke="#8b0000" stroke-width="1.2" stroke-dasharray="2.4,2.2"/>
<text x="699.60" y="129.00" font-size="12.2" text-anchor="start" fill="#8b0000" >1</text>
<path d="M550.80,9.60C550.92,10.53 550.97,13.85 551.50,15.20C552.03,16.55 552.15,16.35 554.00,17.70C555.85,19.05 559.08,21.17 562.60,23.30C566.12,25.43 570.95,28.57 575.10,30.50C579.25,32.43 583.37,33.75 587.50,34.90C591.63,36.05 596.58,36.82 599.90,37.40C603.22,37.98 605.73,37.75 607.40,38.40C609.07,39.05 609.18,39.98 609.90,41.30C610.62,42.62 611.18,44.72 611.70,46.30C612.22,47.88 611.85,49.93 613.00,50.80C614.15,51.67 616.77,51.30 618.60,51.50C620.43,51.70 621.03,51.38 624.00,52.00C626.97,52.62 632.25,53.63 636.40,55.20C640.55,56.77 644.75,59.53 648.90,61.40C653.05,63.27 658.20,64.95 661.30,66.40C664.40,67.85 665.85,68.65 667.50,70.10C669.15,71.55 669.75,73.45 671.20,75.10C672.65,76.75 674.82,77.85 676.20,80.00C677.58,82.15 678.78,84.22 679.50,88.00C680.22,91.78 679.97,97.80 680.50,102.70C681.03,107.60 681.83,113.25 682.70,117.40C683.57,121.55 684.60,124.78 685.70,127.60C686.80,130.42 688.70,133.18 689.30,134.30" fill="none" stroke="#0000ff" stroke-width="1.9" stroke-linejoin="round" stroke-linecap="round" />
<path d="M550.80,11.50C551.12,12.73 551.13,16.63 552.70,18.90C554.27,21.17 556.47,22.60 560.20,25.10C563.93,27.60 570.55,31.50 575.10,33.90C579.65,36.30 583.37,38.17 587.50,39.50C591.63,40.83 596.78,41.32 599.90,41.90C603.02,42.48 604.53,42.27 606.20,43.00C607.87,43.73 609.08,45.30 609.90,46.30C610.72,47.30 610.27,47.83 611.10,49.00C611.93,50.17 612.62,52.07 614.90,53.30C617.18,54.53 621.22,55.25 624.80,56.40C628.38,57.55 632.38,58.75 636.40,60.20C640.42,61.65 644.75,63.65 648.90,65.10C653.05,66.55 658.20,67.92 661.30,68.90C664.40,69.88 666.47,70.65 667.50,71.00" fill="none" stroke="#0000ff" stroke-width="1.9" stroke-linejoin="round" stroke-linecap="round" />
<path d="M675.21,80.47 L675.46,81.08 L675.81,81.83 L676.22,82.68 L676.66,83.63 L677.10,84.67 L677.51,85.79 L677.86,86.99 L678.12,88.26 L678.32,89.68 L678.46,91.31 L678.55,93.09 L678.62,94.99 L678.68,96.95 L678.75,98.94 L678.85,100.93 L679.01,102.85 L679.22,104.74 L679.46,106.67 L679.72,108.61 L679.99,110.55 L680.28,112.45 L680.59,114.30 L680.90,116.06 L681.23,117.71 L681.56,119.25 L681.90,120.72 L682.26,122.12 L682.63,123.45 L683.01,124.71 L683.40,125.92 L683.80,127.07 L684.22,128.20 L684.69,129.31 L685.21,130.40 L685.76,131.43 L686.30,132.39 L686.81,133.25 L687.27,134.01 L687.64,134.62 L687.91,135.09 L690.69,133.51 L690.40,132.99 L690.01,132.35 L689.56,131.61 L689.07,130.79 L688.57,129.89 L688.07,128.96 L687.60,127.99 L687.18,127.00 L686.78,125.97 L686.38,124.89 L685.98,123.75 L685.60,122.55 L685.22,121.30 L684.86,119.97 L684.51,118.57 L684.17,117.09 L683.85,115.50 L683.54,113.79 L683.25,111.98 L682.96,110.11 L682.69,108.21 L682.43,106.29 L682.20,104.39 L681.99,102.55 L681.82,100.71 L681.69,98.79 L681.60,96.84 L681.52,94.88 L681.43,92.95 L681.30,91.10 L681.13,89.35 L680.88,87.74 L680.49,86.26 L680.01,84.89 L679.47,83.65 L678.91,82.54 L678.37,81.56 L677.88,80.73 L677.49,80.06 L677.19,79.53Z" fill="#0000ff" stroke="#0000ff" stroke-width="0.6" stroke-linejoin="round"/>
<path d="M550.80,85.60C550.92,84.47 550.77,80.77 551.50,78.80C552.23,76.83 554.17,75.25 555.20,73.80C556.23,72.35 556.67,71.65 557.70,70.10C558.73,68.55 559.53,65.95 561.40,64.50C563.27,63.05 565.58,62.40 568.90,61.40C572.22,60.40 577.17,59.68 581.30,58.50C585.43,57.32 589.55,55.72 593.70,54.30C597.85,52.88 603.30,51.10 606.20,50.00C609.10,48.90 609.63,48.28 611.10,47.70C612.57,47.12 613.75,47.15 615.00,46.50C616.25,45.85 617.38,45.28 618.60,43.80C619.82,42.32 621.07,39.15 622.30,37.60C623.53,36.05 624.05,35.23 626.00,34.50C627.95,33.77 631.23,33.62 634.00,33.20C636.77,32.78 639.08,32.83 642.60,32.00C646.12,31.17 650.95,29.65 655.10,28.20C659.25,26.75 663.37,25.05 667.50,23.30C671.63,21.55 676.78,19.05 679.90,17.70C683.02,16.35 684.53,16.35 686.20,15.20C687.87,14.05 689.18,11.80 689.90,10.80C690.62,9.80 690.40,9.47 690.50,9.20" fill="none" stroke="#0000ff" stroke-width="1.9" stroke-linejoin="round" stroke-linecap="round" />
<path d="M550.80,129.90C551.08,127.22 551.93,119.58 552.50,113.80C553.07,108.02 553.75,99.50 554.20,95.20C554.65,90.90 554.62,90.93 555.20,88.00C555.78,85.07 556.47,80.17 557.70,77.60C558.93,75.03 561.15,74.05 562.60,72.60C564.05,71.15 565.35,70.15 566.40,68.90C567.45,67.65 566.42,66.42 568.90,65.10C571.38,63.78 577.17,62.38 581.30,61.00C585.43,59.62 589.55,58.38 593.70,56.80C597.85,55.22 603.30,52.80 606.20,51.50C609.10,50.20 609.03,49.45 611.10,49.00C613.17,48.55 616.52,49.13 618.60,48.80C620.68,48.47 622.28,48.05 623.60,47.00C624.92,45.95 625.60,44.28 626.50,42.50C627.40,40.72 627.75,37.62 629.00,36.30C630.25,34.98 631.73,35.08 634.00,34.60C636.27,34.12 639.08,34.23 642.60,33.40C646.12,32.57 650.95,31.07 655.10,29.60C659.25,28.13 663.37,26.37 667.50,24.60C671.63,22.83 676.78,20.43 679.90,19.00C683.02,17.57 684.52,17.33 686.20,16.00C687.88,14.67 689.37,11.83 690.00,11.00" fill="none" stroke="#0000ff" stroke-width="1.9" stroke-linejoin="round" stroke-linecap="round" />
<path d="M551.79,130.01 L551.96,128.79 L552.16,127.18 L552.40,125.27 L552.66,123.13 L552.94,120.85 L553.22,118.50 L553.49,116.17 L553.74,113.92 L553.97,111.63 L554.21,109.17 L554.45,106.62 L554.69,104.06 L554.92,101.57 L555.14,99.23 L555.35,97.12 L555.54,95.34 L555.69,93.92 L555.81,92.82 L555.90,91.96 L555.99,91.27 L556.08,90.64 L556.19,90.00 L556.33,89.23 L556.53,88.26 L556.73,87.06 L556.94,85.73 L557.17,84.34 L557.43,82.92 L557.71,81.53 L558.02,80.23 L558.37,79.06 L558.73,78.11 L559.17,77.31 L559.71,76.57 L560.33,75.88 L560.99,75.25 L561.65,74.67 L562.28,74.16 L562.83,73.70 L563.23,73.31 L561.97,71.89 L561.59,72.20 L561.05,72.58 L560.38,73.07 L559.62,73.65 L558.83,74.34 L558.04,75.14 L557.30,76.06 L556.67,77.09 L556.16,78.26 L555.72,79.56 L555.33,80.96 L554.98,82.41 L554.67,83.86 L554.38,85.26 L554.12,86.57 L553.87,87.74 L553.68,88.72 L553.53,89.52 L553.41,90.22 L553.31,90.91 L553.22,91.65 L553.12,92.53 L553.01,93.64 L552.86,95.06 L552.69,96.87 L552.50,98.99 L552.31,101.33 L552.10,103.83 L551.89,106.39 L551.67,108.94 L551.46,111.40 L551.26,113.68 L551.06,115.92 L550.85,118.26 L550.64,120.61 L550.43,122.89 L550.23,125.03 L550.05,126.95 L549.91,128.56 L549.81,129.79Z" fill="#0000ff" stroke="#0000ff" stroke-width="0.6" stroke-linejoin="round"/>
<path d="M687.36,16.55 L687.68,16.20 L688.13,15.70 L688.66,15.09 L689.25,14.43 L689.84,13.74 L690.40,13.08 L690.90,12.48 L691.31,11.95 L691.61,11.45 L691.85,10.98 L692.01,10.53 L692.10,10.12 L692.15,9.78 L692.16,9.57 L692.16,9.55 L692.16,9.55 L688.84,8.85 L688.79,9.09 L688.77,9.35 L688.76,9.46 L688.76,9.51 L688.75,9.55 L688.72,9.64 L688.64,9.80 L688.49,10.05 L688.22,10.47 L687.81,11.04 L687.31,11.70 L686.78,12.40 L686.24,13.08 L685.75,13.72 L685.33,14.25 L685.04,14.65Z" fill="#0000ff" stroke="#0000ff" stroke-width="0.6" stroke-linejoin="round"/>
<line x1="654.80" y1="51.70" x2="671.80" y2="51.70" stroke="#0000ff" stroke-width="1.6"/>
<text x="673.80" y="55.00" font-size="10.3" text-anchor="start" fill="#000" >NLNM1</text>
<line x1="70.69" y1="323.0" x2="70.69" y2="320.0" stroke="#000" stroke-width="1.5"/>
<line x1="100.26" y1="323.0" x2="100.26" y2="320.0" stroke="#000" stroke-width="1.5"/>
<line x1="129.82" y1="323.0" x2="129.82" y2="320.0" stroke="#000" stroke-width="1.5"/>
<line x1="159.39" y1="323.0" x2="159.39" y2="320.0" stroke="#000" stroke-width="1.5"/>
<line x1="188.95" y1="323.0" x2="188.95" y2="320.0" stroke="#000" stroke-width="1.5"/>
<line x1="218.52" y1="323.0" x2="218.52" y2="320.0" stroke="#000" stroke-width="1.5"/>
<line x1="85.47" y1="323.0" x2="85.47" y2="320.0" stroke="#000" stroke-width="1.5"/>
<line x1="115.04" y1="323.0" x2="115.04" y2="320.0" stroke="#000" stroke-width="1.5"/>
<line x1="144.60" y1="323.0" x2="144.60" y2="320.0" stroke="#000" stroke-width="1.5"/>
<line x1="174.17" y1="323.0" x2="174.17" y2="320.0" stroke="#000" stroke-width="1.5"/>
<line x1="203.73" y1="323.0" x2="203.73" y2="320.0" stroke="#000" stroke-width="1.5"/>
<line x1="63.3" y1="316.80" x2="66.3" y2="316.80" stroke="#000" stroke-width="1.5"/>
<line x1="63.3" y1="285.35" x2="66.3" y2="285.35" stroke="#000" stroke-width="1.5"/>
<line x1="63.3" y1="253.90" x2="66.3" y2="253.90" stroke="#000" stroke-width="1.5"/>
<line x1="63.3" y1="222.45" x2="66.3" y2="222.45" stroke="#000" stroke-width="1.5"/>
<line x1="63.3" y1="191.00" x2="66.3" y2="191.00" stroke="#000" stroke-width="1.5"/>
<line x1="63.3" y1="301.07" x2="66.3" y2="301.07" stroke="#000" stroke-width="1.5"/>
<line x1="63.3" y1="269.62" x2="66.3" y2="269.62" stroke="#000" stroke-width="1.5"/>
<line x1="63.3" y1="238.18" x2="66.3" y2="238.18" stroke="#000" stroke-width="1.5"/>
<line x1="63.3" y1="206.72" x2="66.3" y2="206.72" stroke="#000" stroke-width="1.5"/>
<rect x="63.3" y="184.9" width="170.0" height="138.1" fill="none" stroke="#000" stroke-width="1.7"/>
<text x="70.69" y="334.5" font-size="10.6" text-anchor="middle" fill="#000" >0</text>
<text x="100.26" y="334.5" font-size="10.6" text-anchor="middle" fill="#000" >20</text>
<text x="129.82" y="334.5" font-size="10.6" text-anchor="middle" fill="#000" >40</text>
<text x="159.39" y="334.5" font-size="10.6" text-anchor="middle" fill="#000" >60</text>
<text x="188.95" y="334.5" font-size="10.6" text-anchor="middle" fill="#000" >80</text>
<text x="218.52" y="334.5" font-size="10.6" text-anchor="middle" fill="#000" >100</text>
<text x="60.30" y="320.20" font-size="10.6" text-anchor="end" fill="#000" >2.0</text>
<text x="60.30" y="288.75" font-size="10.6" text-anchor="end" fill="#000" >2.5</text>
<text x="60.30" y="257.30" font-size="10.6" text-anchor="end" fill="#000" >3.0</text>
<text x="60.30" y="225.85" font-size="10.6" text-anchor="end" fill="#000" >3.5</text>
<text x="60.30" y="194.40" font-size="10.6" text-anchor="end" fill="#000" >4.0</text>
<text x="147.10" y="349.50" font-size="11.6" text-anchor="middle">Capacity (mAh g<tspan font-size="7.5" dy="-4.5">-1</tspan><tspan dy="4.5">)</tspan></text>
<text transform="translate(37.80,249.25) rotate(-90)" x="0" y="0" font-size="11.75" text-anchor="middle">Potential vs. Na<tspan font-size="7.6" dy="-4.4">+</tspan><tspan dy="4.4">/ Na</tspan><tspan font-size="7.6" dy="-4.4">0</tspan><tspan dy="4.4">(V)</tspan></text>
<text x="0.5" y="195.0" font-size="19" text-anchor="start" fill="#000" >(d)</text>
<text x="187.50" y="312.50" font-size="12.2" text-anchor="start" fill="#8b0000" >10</text>
<path d="M200.70,307.30 L205.70,305.30 L204.50,307.30 L205.70,309.30Z" fill="#8b0000" stroke="#8b0000" stroke-width="0.6"/>
<line x1="204.70" y1="307.30" x2="225.80" y2="307.30" stroke="#8b0000" stroke-width="1.2" stroke-dasharray="2.4,2.2"/>
<text x="226.00" y="312.30" font-size="12.2" text-anchor="start" fill="#8b0000" >1</text>
<path d="M69.60,273.00C69.65,271.12 69.67,263.78 69.90,261.70C70.13,259.62 70.22,260.73 71.00,260.50C71.78,260.27 72.23,261.28 74.60,260.30C76.97,259.32 81.08,256.83 85.20,254.60C89.32,252.37 94.60,249.25 99.30,246.90C104.00,244.55 108.28,243.05 113.40,240.50C118.52,237.95 124.42,234.63 130.00,231.60C135.58,228.57 141.25,225.12 146.90,222.30C152.55,219.48 158.25,217.25 163.90,214.70C169.55,212.15 175.15,209.55 180.80,207.00C186.45,204.45 192.15,201.93 197.80,199.40C203.45,196.87 211.75,192.78 214.70,191.80C217.65,190.82 215.37,193.22 215.50,193.50" fill="none" stroke="#ff0000" stroke-width="1.6" stroke-linejoin="round" stroke-linecap="round" />
<path d="M71.30,307.44 L71.38,306.51 L71.47,305.26 L71.56,303.78 L71.67,302.13 L71.78,300.41 L71.91,298.67 L72.05,297.01 L72.20,295.49 L72.35,294.05 L72.51,292.59 L72.68,291.15 L72.86,289.73 L73.06,288.35 L73.27,287.05 L73.50,285.83 L73.77,284.72 L74.02,283.70 L74.29,282.76 L74.58,281.90 L74.89,281.11 L75.21,280.37 L75.56,279.68 L75.94,279.01 L76.34,278.38 L76.74,277.79 L77.17,277.25 L77.64,276.74 L78.16,276.24 L78.71,275.74 L79.31,275.23 L79.93,274.70 L80.57,274.14 L81.22,273.59 L81.86,273.04 L82.51,272.50 L83.18,271.97 L83.85,271.44 L84.55,270.94 L85.26,270.45 L85.99,269.98 L86.74,269.53 L87.54,269.10 L88.38,268.67 L89.25,268.25 L90.14,267.84 L91.05,267.41 L91.96,266.99 L92.85,266.55 L93.68,266.15 L94.43,265.81 L95.17,265.47 L95.94,265.12 L96.77,264.73 L97.71,264.26 L98.79,263.70 L100.04,263.01 L101.45,262.19 L103.00,261.28 L104.66,260.29 L106.43,259.22 L108.28,258.09 L110.20,256.92 L112.17,255.71 L114.19,254.48 L116.31,253.15 L118.56,251.71 L120.90,250.20 L123.29,248.66 L125.67,247.15 L128.02,245.71 L130.27,244.39 L132.39,243.23 L134.37,242.27 L136.25,241.45 L138.08,240.74 L139.89,240.08 L141.71,239.44 L143.57,238.77 L145.50,238.03 L147.51,237.17 L149.57,236.23 L151.67,235.24 L153.80,234.21 L155.96,233.15 L158.13,232.06 L160.30,230.96 L162.46,229.84 L164.60,228.73 L166.73,227.59 L168.85,226.43 L170.97,225.25 L173.09,224.06 L175.20,222.87 L177.31,221.67 L179.42,220.49 L181.52,219.31 L183.64,218.17 L185.77,217.03 L187.90,215.89 L190.04,214.76 L192.17,213.61 L194.31,212.46 L196.46,211.28 L198.60,210.09 L200.78,208.83 L203.03,207.51 L205.29,206.15 L207.53,204.80 L209.72,203.48 L211.81,202.23 L213.76,201.09 L215.54,200.08 L217.16,199.20 L218.64,198.41 L220.00,197.70 L221.25,197.08 L222.41,196.53 L223.50,196.05 L224.53,195.64 L225.51,195.30 L226.44,195.06 L227.35,194.90 L228.23,194.81 L229.08,194.78 L229.88,194.77 L230.63,194.79 L231.32,194.80 L231.88,194.79 L231.52,190.41 L231.08,190.48 L230.49,190.54 L229.71,190.60 L228.79,190.69 L227.76,190.82 L226.65,191.01 L225.48,191.30 L224.29,191.70 L223.14,192.16 L222.00,192.67 L220.83,193.24 L219.61,193.87 L218.33,194.57 L216.96,195.34 L215.48,196.19 L213.86,197.12 L212.06,198.17 L210.09,199.36 L207.99,200.64 L205.82,201.98 L203.59,203.35 L201.35,204.72 L199.14,206.05 L197.00,207.31 L194.90,208.52 L192.79,209.70 L190.68,210.87 L188.56,212.03 L186.44,213.19 L184.32,214.35 L182.20,215.51 L180.08,216.69 L177.95,217.87 L175.83,219.06 L173.72,220.26 L171.61,221.45 L169.51,222.63 L167.41,223.80 L165.30,224.95 L163.20,226.07 L161.08,227.18 L158.93,228.29 L156.78,229.39 L154.63,230.46 L152.49,231.51 L150.38,232.53 L148.31,233.51 L146.29,234.43 L144.37,235.25 L142.52,235.96 L140.70,236.61 L138.88,237.26 L137.02,237.93 L135.10,238.68 L133.11,239.54 L131.01,240.57 L128.79,241.78 L126.47,243.14 L124.09,244.61 L121.67,246.14 L119.28,247.68 L116.94,249.19 L114.71,250.62 L112.61,251.92 L110.61,253.15 L108.63,254.36 L106.72,255.53 L104.87,256.66 L103.12,257.72 L101.47,258.70 L99.94,259.60 L98.56,260.39 L97.36,261.06 L96.35,261.59 L95.47,262.03 L94.68,262.40 L93.93,262.74 L93.18,263.08 L92.39,263.44 L91.55,263.85 L90.66,264.28 L89.77,264.70 L88.87,265.12 L87.96,265.55 L87.05,265.98 L86.15,266.44 L85.27,266.92 L84.41,267.42 L83.59,267.95 L82.81,268.49 L82.05,269.05 L81.32,269.61 L80.62,270.18 L79.93,270.74 L79.27,271.31 L78.63,271.86 L78.00,272.37 L77.36,272.88 L76.72,273.40 L76.08,273.94 L75.44,274.52 L74.82,275.15 L74.22,275.86 L73.66,276.62 L73.19,277.43 L72.76,278.24 L72.36,279.09 L72.00,279.98 L71.67,280.91 L71.37,281.90 L71.09,282.95 L70.83,284.08 L70.63,285.31 L70.45,286.63 L70.30,288.01 L70.18,289.44 L70.07,290.90 L69.97,292.37 L69.89,293.85 L69.80,295.31 L69.73,296.86 L69.66,298.55 L69.61,300.30 L69.57,302.04 L69.54,303.69 L69.52,305.18 L69.50,306.43 L69.50,307.36Z" fill="#ff0000" stroke="#ff0000" stroke-width="0.6" stroke-linejoin="round"/>
<path d="M165.00,256.50C167.08,257.42 173.17,259.82 177.50,262.00C181.83,264.18 187.48,266.77 191.00,269.60C194.52,272.43 195.63,276.32 198.60,279.00C201.57,281.68 205.68,283.30 208.80,285.70C211.92,288.10 214.75,290.28 217.30,293.40C219.85,296.52 222.12,300.60 224.10,304.40C226.08,308.20 228.25,314.77 229.20,316.20C230.15,317.63 229.70,313.53 229.80,313.00" fill="none" stroke="#ff0000" stroke-width="1.5" stroke-linejoin="round" stroke-linecap="round" />
<path d="M69.50,193.24 L69.38,193.63 L69.23,194.15 L69.08,194.81 L68.95,195.58 L68.87,196.44 L68.88,197.37 L69.02,198.36 L69.32,199.34 L69.87,200.12 L70.45,200.81 L71.09,201.47 L71.80,202.12 L72.58,202.77 L73.46,203.45 L74.43,204.17 L75.54,204.97 L76.81,205.86 L78.26,206.83 L79.83,207.85 L81.49,208.91 L83.20,209.98 L84.92,211.06 L86.60,212.12 L88.22,213.15 L89.78,214.16 L91.34,215.14 L92.90,216.12 L94.45,217.09 L95.99,218.07 L97.53,219.07 L99.07,220.10 L100.59,221.17 L102.11,222.31 L103.64,223.54 L105.17,224.83 L106.72,226.14 L108.28,227.44 L109.85,228.71 L111.44,229.91 L113.05,231.01 L114.66,231.99 L116.27,232.85 L117.87,233.63 L119.45,234.36 L121.01,235.06 L122.56,235.77 L124.09,236.50 L125.60,237.30 L127.17,238.20 L128.81,239.19 L130.49,240.24 L132.16,241.30 L133.79,242.33 L135.32,243.29 L136.74,244.15 L138.00,244.85 L139.03,245.36 L139.86,245.69 L140.54,245.88 L141.09,245.98 L141.52,246.05 L141.96,246.16 L142.56,246.36 L143.45,246.73 L144.63,247.30 L146.01,247.96 L147.52,248.72 L149.13,249.53 L150.79,250.39 L152.46,251.28 L154.11,252.18 L155.69,253.06 L157.23,253.96 L158.80,254.90 L160.37,255.86 L161.94,256.84 L163.50,257.84 L165.05,258.83 L166.57,259.83 L168.06,260.80 L169.51,261.77 L170.96,262.74 L172.39,263.71 L173.80,264.68 L175.17,265.64 L176.50,266.59 L177.79,267.52 L179.02,268.43 L180.20,269.32 L181.32,270.20 L182.40,271.06 L183.44,271.90 L184.45,272.74 L185.42,273.58 L186.37,274.41 L187.30,275.24 L188.17,276.06 L188.98,276.88 L189.78,277.72 L190.56,278.57 L191.37,279.44 L192.21,280.31 L193.11,281.19 L194.08,282.05 L195.08,282.88 L196.10,283.66 L197.14,284.43 L198.19,285.17 L199.26,285.92 L200.35,286.66 L201.46,287.42 L202.62,288.22 L203.89,289.05 L205.25,289.88 L206.63,290.68 L207.99,291.49 L209.30,292.30 L210.50,293.12 L211.57,293.95 L212.45,294.78 L213.18,295.66 L213.82,296.61 L214.39,297.63 L214.92,298.72 L215.43,299.88 L215.95,301.10 L216.51,302.38 L217.13,303.65 L217.80,304.95 L218.49,306.30 L219.20,307.69 L219.90,309.08 L220.56,310.42 L221.17,311.66 L221.68,312.77 L222.08,313.67 L222.34,314.36 L222.51,314.90 L222.60,315.31 L222.64,315.62 L222.66,315.88 L222.67,316.16 L222.69,316.54 L222.73,316.88 L227.27,316.12 L227.23,315.98 L227.20,315.81 L227.17,315.45 L227.09,314.94 L226.97,314.33 L226.77,313.63 L226.49,312.83 L226.12,311.93 L225.64,310.91 L225.07,309.75 L224.43,308.48 L223.73,307.12 L223.00,305.73 L222.26,304.34 L221.54,302.99 L220.87,301.75 L220.28,300.59 L219.74,299.42 L219.20,298.21 L218.62,296.97 L217.98,295.71 L217.25,294.45 L216.38,293.21 L215.35,292.02 L214.15,290.90 L212.83,289.89 L211.44,288.97 L210.02,288.10 L208.61,287.28 L207.24,286.49 L205.96,285.73 L204.78,284.98 L203.65,284.21 L202.52,283.46 L201.44,282.73 L200.39,282.01 L199.37,281.31 L198.39,280.60 L197.44,279.88 L196.52,279.15 L195.66,278.40 L194.84,277.64 L194.05,276.85 L193.25,276.03 L192.43,275.18 L191.58,274.32 L190.67,273.44 L189.70,272.56 L188.70,271.71 L187.69,270.88 L186.66,270.04 L185.60,269.21 L184.50,268.37 L183.37,267.52 L182.20,266.65 L180.98,265.77 L179.70,264.86 L178.38,263.93 L177.01,262.99 L175.60,262.04 L174.17,261.08 L172.71,260.11 L171.23,259.15 L169.74,258.20 L168.24,257.24 L166.69,256.26 L165.12,255.28 L163.52,254.29 L161.92,253.32 L160.31,252.36 L158.70,251.43 L157.11,250.54 L155.48,249.65 L153.79,248.76 L152.08,247.88 L150.39,247.03 L148.75,246.23 L147.20,245.49 L145.79,244.83 L144.55,244.27 L143.51,243.84 L142.68,243.58 L142.02,243.44 L141.51,243.37 L141.12,243.31 L140.70,243.20 L140.09,242.97 L139.20,242.55 L138.03,241.91 L136.66,241.10 L135.15,240.16 L133.52,239.15 L131.84,238.09 L130.13,237.04 L128.44,236.03 L126.80,235.10 L125.20,234.27 L123.60,233.52 L122.02,232.81 L120.45,232.13 L118.90,231.43 L117.37,230.69 L115.85,229.89 L114.35,228.99 L112.85,227.96 L111.33,226.82 L109.80,225.59 L108.27,224.30 L106.72,222.99 L105.16,221.69 L103.59,220.42 L102.01,219.23 L100.44,218.12 L98.87,217.05 L97.32,216.02 L95.76,215.02 L94.21,214.04 L92.67,213.05 L91.13,212.06 L89.58,211.05 L87.99,209.98 L86.33,208.88 L84.64,207.76 L82.96,206.64 L81.35,205.55 L79.83,204.51 L78.46,203.53 L77.26,202.63 L76.24,201.82 L75.35,201.08 L74.58,200.42 L73.94,199.81 L73.40,199.24 L72.95,198.70 L72.58,198.17 L72.28,197.66 L71.91,197.25 L71.61,196.74 L71.35,196.12 L71.15,195.46 L70.98,194.79 L70.83,194.15 L70.68,193.59 L70.50,193.16Z" fill="#ff0000" stroke="#ff0000" stroke-width="0.6" stroke-linejoin="round"/>
<line x1="170.10" y1="242.40" x2="187.10" y2="242.40" stroke="#ff0000" stroke-width="1.6"/>
<text x="189.10" y="245.70" font-size="10.3" text-anchor="start" fill="#000" >NLNM2</text>
<line x1="312.00" y1="322.2" x2="312.00" y2="319.2" stroke="#000" stroke-width="1.5"/>
<line x1="344.40" y1="322.2" x2="344.40" y2="319.2" stroke="#000" stroke-width="1.5"/>
<line x1="376.80" y1="322.2" x2="376.80" y2="319.2" stroke="#000" stroke-width="1.5"/>
<line x1="409.20" y1="322.2" x2="409.20" y2="319.2" stroke="#000" stroke-width="1.5"/>
<line x1="441.60" y1="322.2" x2="441.60" y2="319.2" stroke="#000" stroke-width="1.5"/>
<line x1="474.00" y1="322.2" x2="474.00" y2="319.2" stroke="#000" stroke-width="1.5"/>
<line x1="328.20" y1="322.2" x2="328.20" y2="319.2" stroke="#000" stroke-width="1.5"/>
<line x1="360.60" y1="322.2" x2="360.60" y2="319.2" stroke="#000" stroke-width="1.5"/>
<line x1="393.00" y1="322.2" x2="393.00" y2="319.2" stroke="#000" stroke-width="1.5"/>
<line x1="425.40" y1="322.2" x2="425.40" y2="319.2" stroke="#000" stroke-width="1.5"/>
<line x1="457.80" y1="322.2" x2="457.80" y2="319.2" stroke="#000" stroke-width="1.5"/>
<line x1="303.9" y1="315.80" x2="306.9" y2="315.80" stroke="#000" stroke-width="1.5"/>
<line x1="303.9" y1="284.32" x2="306.9" y2="284.32" stroke="#000" stroke-width="1.5"/>
<line x1="303.9" y1="252.85" x2="306.9" y2="252.85" stroke="#000" stroke-width="1.5"/>
<line x1="303.9" y1="221.38" x2="306.9" y2="221.38" stroke="#000" stroke-width="1.5"/>
<line x1="303.9" y1="189.90" x2="306.9" y2="189.90" stroke="#000" stroke-width="1.5"/>
<line x1="303.9" y1="300.06" x2="306.9" y2="300.06" stroke="#000" stroke-width="1.5"/>
<line x1="303.9" y1="268.59" x2="306.9" y2="268.59" stroke="#000" stroke-width="1.5"/>
<line x1="303.9" y1="237.11" x2="306.9" y2="237.11" stroke="#000" stroke-width="1.5"/>
<line x1="303.9" y1="205.64" x2="306.9" y2="205.64" stroke="#000" stroke-width="1.5"/>
<rect x="303.9" y="183.9" width="170.10000000000002" height="138.29999999999998" fill="none" stroke="#000" stroke-width="1.7"/>
<text x="312.00" y="333.7" font-size="10.6" text-anchor="middle" fill="#000" >0</text>
<text x="344.40" y="333.7" font-size="10.6" text-anchor="middle" fill="#000" >20</text>
<text x="376.80" y="333.7" font-size="10.6" text-anchor="middle" fill="#000" >40</text>
<text x="409.20" y="333.7" font-size="10.6" text-anchor="middle" fill="#000" >60</text>
<text x="441.60" y="333.7" font-size="10.6" text-anchor="middle" fill="#000" >80</text>
<text x="474.00" y="333.7" font-size="10.6" text-anchor="middle" fill="#000" >100</text>
<text x="300.90" y="319.20" font-size="10.6" text-anchor="end" fill="#000" >2.0</text>
<text x="300.90" y="287.72" font-size="10.6" text-anchor="end" fill="#000" >2.5</text>
<text x="300.90" y="256.25" font-size="10.6" text-anchor="end" fill="#000" >3.0</text>
<text x="300.90" y="224.78" font-size="10.6" text-anchor="end" fill="#000" >3.5</text>
<text x="300.90" y="193.30" font-size="10.6" text-anchor="end" fill="#000" >4.0</text>
<text x="388.85" y="348.90" font-size="11.6" text-anchor="middle">Capacity (mAh g<tspan font-size="7.5" dy="-4.5">-1</tspan><tspan dy="4.5">)</tspan></text>
<text transform="translate(279.80,248.35) rotate(-90)" x="0" y="0" font-size="11.75" text-anchor="middle">Potential vs. Na<tspan font-size="7.6" dy="-4.4">+</tspan><tspan dy="4.4">/ Na</tspan><tspan font-size="7.6" dy="-4.4">0</tspan><tspan dy="4.4">(V)</tspan></text>
<text x="240.5" y="195.5" font-size="19" text-anchor="start" fill="#000" >(e)</text>
<path d="M312.30,300.01 L312.36,298.62 L312.41,296.73 L312.47,294.48 L312.53,292.01 L312.60,289.45 L312.69,286.94 L312.78,284.63 L312.90,282.65 L313.04,280.94 L313.17,279.33 L313.31,277.85 L313.46,276.47 L313.64,275.21 L313.85,274.04 L314.11,272.97 L314.43,271.98 L314.81,271.09 L315.22,270.31 L315.65,269.62 L316.12,269.01 L316.63,268.44 L317.19,267.89 L317.81,267.33 L318.47,266.78 L319.07,266.31 L319.64,265.97 L320.26,265.64 L321.01,265.28 L321.92,264.85 L323.00,264.31 L324.26,263.62 L325.71,262.74 L327.35,261.68 L329.19,260.45 L331.17,259.10 L333.25,257.67 L335.40,256.22 L337.56,254.79 L339.67,253.44 L341.69,252.21 L343.68,251.03 L345.74,249.86 L347.85,248.71 L349.96,247.58 L352.06,246.49 L354.10,245.42 L356.07,244.38 L357.90,243.39 L359.56,242.47 L361.09,241.64 L362.53,240.85 L363.91,240.09 L365.26,239.34 L366.61,238.56 L367.99,237.75 L369.42,236.87 L370.88,235.94 L372.34,234.99 L373.80,234.01 L375.24,233.02 L376.68,232.02 L378.10,231.03 L379.52,230.04 L380.92,229.06 L382.36,228.05 L383.82,227.02 L385.29,225.97 L386.74,224.94 L388.17,223.92 L389.54,222.93 L390.86,222.00 L392.09,221.13 L393.28,220.29 L394.47,219.45 L395.64,218.63 L396.75,217.85 L397.78,217.14 L398.69,216.51 L399.46,215.97 L400.06,215.55 L395.94,209.65 L395.35,210.06 L394.58,210.59 L393.67,211.23 L392.64,211.95 L391.52,212.73 L390.34,213.55 L389.13,214.41 L387.91,215.27 L386.67,216.17 L385.35,217.14 L383.98,218.15 L382.57,219.19 L381.14,220.24 L379.70,221.30 L378.28,222.33 L376.88,223.34 L375.48,224.35 L374.08,225.36 L372.68,226.37 L371.28,227.37 L369.90,228.35 L368.52,229.31 L367.14,230.23 L365.78,231.13 L364.45,231.97 L363.17,232.75 L361.90,233.51 L360.61,234.26 L359.28,235.02 L357.86,235.82 L356.34,236.68 L354.70,237.61 L352.93,238.60 L351.03,239.64 L349.00,240.72 L346.90,241.85 L344.74,243.03 L342.57,244.24 L340.42,245.49 L338.31,246.79 L336.22,248.20 L334.08,249.72 L331.93,251.30 L329.82,252.88 L327.79,254.41 L325.90,255.86 L324.18,257.16 L322.69,258.26 L321.46,259.12 L320.40,259.81 L319.48,260.38 L318.62,260.89 L317.79,261.41 L316.96,261.98 L316.13,262.65 L315.33,263.42 L314.62,264.23 L313.97,265.04 L313.36,265.88 L312.80,266.78 L312.30,267.73 L311.86,268.75 L311.48,269.84 L311.17,271.02 L310.91,272.27 L310.74,273.55 L310.63,274.88 L310.57,276.25 L310.54,277.69 L310.52,279.21 L310.52,280.82 L310.50,282.55 L310.46,284.56 L310.44,286.89 L310.43,289.41 L310.43,291.98 L310.44,294.46 L310.46,296.72 L310.48,298.60 L310.50,299.99Z" fill="#008000" stroke="#008000" stroke-width="0.6" stroke-linejoin="round"/>
<path d="M393.91,210.88C396.54,208.89 404.97,202.32 409.70,198.94C414.43,195.56 420.20,191.99 422.30,190.60" fill="none" stroke="#008000" stroke-width="1.6" stroke-linejoin="round" stroke-linecap="butt" />
<path d="M394.51,211.72C397.15,209.73 405.38,203.33 410.36,199.81C415.33,196.29 422.02,192.14 424.36,190.60" fill="none" stroke="#008000" stroke-width="1.6" stroke-linejoin="round" stroke-linecap="butt" />
<path d="M395.11,212.55C397.76,210.57 405.80,204.35 411.02,200.69C416.23,197.03 423.85,192.28 426.41,190.60" fill="none" stroke="#008000" stroke-width="1.6" stroke-linejoin="round" stroke-linecap="butt" />
<path d="M395.70,213.38C398.36,211.41 406.21,205.36 411.67,201.56C417.13,197.77 425.67,192.43 428.47,190.60" fill="none" stroke="#008000" stroke-width="1.6" stroke-linejoin="round" stroke-linecap="butt" />
<path d="M396.30,214.22C398.97,212.25 406.62,206.37 412.33,202.44C418.03,198.50 427.50,192.57 430.53,190.60" fill="none" stroke="#008000" stroke-width="1.6" stroke-linejoin="round" stroke-linecap="butt" />
<path d="M396.89,215.05C399.58,213.09 407.04,207.39 412.98,203.31C418.93,199.24 429.32,192.72 432.59,190.60" fill="none" stroke="#008000" stroke-width="1.6" stroke-linejoin="round" stroke-linecap="butt" />
<path d="M397.49,215.88C400.18,213.93 407.45,208.40 413.64,204.19C419.83,199.97 431.14,192.86 434.64,190.60" fill="none" stroke="#008000" stroke-width="1.6" stroke-linejoin="round" stroke-linecap="butt" />
<path d="M398.09,216.72C400.79,214.77 407.86,209.41 414.30,205.06C420.73,200.71 432.97,193.01 436.70,190.60" fill="none" stroke="#008000" stroke-width="1.6" stroke-linejoin="round" stroke-linecap="butt" />
<path d="M392.00,222.50C394.17,221.25 401.17,217.33 405.00,215.00C408.83,212.67 411.67,210.67 415.00,208.50C418.33,206.33 421.67,204.08 425.00,202.00C428.33,199.92 431.75,197.80 435.00,196.00C438.25,194.20 442.78,192.33 444.50,191.20C446.22,190.07 445.17,189.53 445.30,189.20" fill="none" stroke="#008000" stroke-width="1.4" stroke-linejoin="round" stroke-linecap="round" />
<path d="M404.00,213.00C405.67,211.92 410.67,208.67 414.00,206.50C417.33,204.33 420.83,202.00 424.00,200.00C427.17,198.00 430.33,196.03 433.00,194.50C435.67,192.97 438.83,191.42 440.00,190.80" fill="none" stroke="#008000" stroke-width="1.1" stroke-linejoin="round" stroke-linecap="round" />
<path d="M362.00,241.00C364.82,239.27 374.23,233.43 378.90,230.60C383.57,227.77 388.15,225.10 390.00,224.00" fill="none" stroke="#ffffff" stroke-width="0.5" stroke-linejoin="round" stroke-linecap="round" />
<path d="M310.96,194.83 L311.06,195.27 L311.20,195.84 L311.38,196.52 L311.60,197.28 L311.84,198.09 L312.09,198.93 L312.36,199.78 L312.62,200.58 L312.88,201.34 L313.13,202.13 L313.40,202.95 L313.69,203.81 L314.03,204.71 L314.42,205.64 L314.88,206.59 L315.42,207.55 L316.03,208.50 L316.71,209.46 L317.43,210.41 L318.19,211.37 L318.98,212.31 L319.78,213.25 L320.58,214.17 L321.39,215.08 L322.22,215.96 L323.05,216.78 L323.86,217.55 L324.66,218.30 L325.47,219.07 L326.30,219.87 L327.18,220.77 L328.10,221.78 L329.08,222.95 L330.10,224.25 L331.20,225.67 L332.36,227.19 L333.59,228.77 L334.91,230.40 L336.31,232.05 L337.81,233.69 L339.43,235.32 L341.17,236.98 L342.99,238.67 L344.86,240.36 L346.72,242.02 L348.54,243.63 L350.28,245.15 L351.89,246.58 L353.37,247.88 L354.74,249.09 L356.05,250.23 L357.32,251.32 L358.59,252.40 L359.90,253.49 L361.29,254.63 L362.79,255.84 L364.43,257.11 L366.16,258.42 L367.96,259.76 L369.79,261.11 L371.63,262.47 L373.45,263.81 L375.24,265.12 L376.96,266.40 L378.68,267.66 L380.41,268.92 L382.13,270.16 L383.82,271.38 L385.45,272.57 L387.00,273.71 L388.45,274.80 L389.77,275.82 L391.00,276.82 L392.19,277.82 L393.33,278.82 L394.40,279.77 L395.37,280.66 L396.25,281.46 L397.00,282.14 L397.60,282.68 L402.40,277.32 L401.83,276.81 L401.11,276.15 L400.23,275.34 L399.21,274.42 L398.09,273.41 L396.87,272.36 L395.58,271.27 L394.23,270.18 L392.81,269.08 L391.30,267.94 L389.70,266.76 L388.05,265.56 L386.35,264.33 L384.64,263.09 L382.93,261.85 L381.24,260.60 L379.51,259.33 L377.72,258.01 L375.89,256.67 L374.06,255.32 L372.25,253.98 L370.49,252.67 L368.80,251.39 L367.21,250.16 L365.72,249.02 L364.35,247.96 L363.05,246.94 L361.78,245.93 L360.52,244.91 L359.21,243.83 L357.82,242.68 L356.31,241.42 L354.65,240.04 L352.86,238.57 L351.01,237.03 L349.13,235.46 L347.26,233.87 L345.45,232.29 L343.75,230.76 L342.19,229.31 L340.75,227.91 L339.37,226.47 L338.04,225.02 L336.75,223.56 L335.50,222.13 L334.28,220.75 L333.08,219.44 L331.90,218.22 L330.77,217.14 L329.73,216.20 L328.75,215.37 L327.84,214.64 L326.98,213.96 L326.17,213.31 L325.39,212.65 L324.61,211.92 L323.78,211.13 L322.94,210.30 L322.11,209.47 L321.31,208.63 L320.54,207.81 L319.83,206.99 L319.17,206.21 L318.58,205.45 L318.07,204.73 L317.62,204.00 L317.21,203.26 L316.83,202.50 L316.47,201.73 L316.11,200.96 L315.75,200.18 L315.38,199.42 L314.99,198.68 L314.59,197.92 L314.20,197.15 L313.83,196.41 L313.48,195.71 L313.16,195.09 L312.87,194.56 L312.64,194.17Z" fill="#008000" stroke="#008000" stroke-width="0.6" stroke-linejoin="round"/>
<path d="M400.38,275.50C401.40,276.41 403.98,278.44 406.52,280.94C409.06,283.45 412.48,286.94 415.59,290.54C418.70,294.15 422.23,298.33 425.18,302.57C428.13,306.81 431.95,313.76 433.30,316.00" fill="none" stroke="#008000" stroke-width="1.6" stroke-linejoin="round" stroke-linecap="butt" />
<path d="M399.70,276.27C400.71,277.17 403.30,279.18 405.80,281.67C408.30,284.17 411.68,287.65 414.71,291.25C417.74,294.84 421.19,299.14 423.99,303.26C426.78,307.39 430.25,313.88 431.50,316.00" fill="none" stroke="#008000" stroke-width="1.6" stroke-linejoin="round" stroke-linecap="butt" />
<path d="M399.02,277.04C400.03,277.94 402.61,279.92 405.08,282.40C407.55,284.89 410.87,288.36 413.82,291.95C416.78,295.54 420.15,299.95 422.79,303.96C425.44,307.97 428.55,313.99 429.70,316.00" fill="none" stroke="#008000" stroke-width="1.6" stroke-linejoin="round" stroke-linecap="butt" />
<path d="M398.34,277.81C399.34,278.70 401.93,280.66 404.36,283.13C406.79,285.61 410.07,289.06 412.94,292.65C415.81,296.24 419.10,300.76 421.60,304.65C424.09,308.54 426.85,314.11 427.90,316.00" fill="none" stroke="#008000" stroke-width="1.6" stroke-linejoin="round" stroke-linecap="butt" />
<path d="M397.66,278.59C398.66,279.47 401.24,281.40 403.64,283.87C406.04,286.33 409.26,289.77 412.06,293.35C414.85,296.93 418.06,301.57 420.40,305.35C422.74,309.12 425.15,314.22 426.10,316.00" fill="none" stroke="#008000" stroke-width="1.6" stroke-linejoin="round" stroke-linecap="butt" />
<path d="M396.98,279.36C397.97,280.23 400.55,282.15 402.92,284.60C405.29,287.04 408.46,290.48 411.18,294.05C413.89,297.63 417.02,302.38 419.21,306.04C421.40,309.70 423.45,314.34 424.30,316.00" fill="none" stroke="#008000" stroke-width="1.6" stroke-linejoin="round" stroke-linecap="butt" />
<path d="M396.30,280.13C397.29,280.99 399.87,282.89 402.20,285.33C404.53,287.76 407.66,291.19 410.29,294.75C412.93,298.32 415.98,303.19 418.01,306.74C420.05,310.28 421.75,314.46 422.50,316.00" fill="none" stroke="#008000" stroke-width="1.6" stroke-linejoin="round" stroke-linecap="butt" />
<path d="M395.62,280.90C396.60,281.76 399.18,283.63 401.48,286.06C403.78,288.48 406.85,291.89 409.41,295.46C411.97,299.02 414.94,304.01 416.82,307.43C418.70,310.85 420.05,314.57 420.70,316.00" fill="none" stroke="#008000" stroke-width="1.6" stroke-linejoin="round" stroke-linecap="butt" />
<path d="M405.00,287.00C406.33,288.50 410.50,292.67 413.00,296.00C415.50,299.33 418.17,303.83 420.00,307.00C421.83,310.17 423.33,313.67 424.00,315.00" fill="none" stroke="#ffffff" stroke-width="0.45" stroke-linejoin="round" stroke-linecap="round" />
<path d="M412.00,290.00C413.17,291.67 416.83,296.33 419.00,300.00C421.17,303.67 424.00,310.00 425.00,312.00" fill="none" stroke="#ffffff" stroke-width="0.45" stroke-linejoin="round" stroke-linecap="round" />
<text x="391.60" y="309.20" font-size="12.2" text-anchor="start" fill="#8b0000" >10</text>
<path d="M404.80,304.00 L409.80,302.00 L408.60,304.00 L409.80,306.00Z" fill="#8b0000" stroke="#8b0000" stroke-width="0.6"/>
<line x1="408.80" y1="304.00" x2="432.20" y2="304.00" stroke="#8b0000" stroke-width="1.2" stroke-dasharray="2.4,2.2"/>
<text x="432.40" y="309.00" font-size="12.2" text-anchor="start" fill="#8b0000" >1</text>
<line x1="408.90" y1="241.20" x2="425.90" y2="241.20" stroke="#008000" stroke-width="1.6"/>
<text x="427.90" y="244.50" font-size="10.3" text-anchor="start" fill="#000" >NLNM3</text>
<line x1="543.80" y1="321.6" x2="543.80" y2="318.6" stroke="#000" stroke-width="1.5"/>
<line x1="572.16" y1="321.6" x2="572.16" y2="318.6" stroke="#000" stroke-width="1.5"/>
<line x1="600.53" y1="321.6" x2="600.53" y2="318.6" stroke="#000" stroke-width="1.5"/>
<line x1="628.89" y1="321.6" x2="628.89" y2="318.6" stroke="#000" stroke-width="1.5"/>
<line x1="657.26" y1="321.6" x2="657.26" y2="318.6" stroke="#000" stroke-width="1.5"/>
<line x1="685.62" y1="321.6" x2="685.62" y2="318.6" stroke="#000" stroke-width="1.5"/>
<line x1="713.99" y1="321.6" x2="713.99" y2="318.6" stroke="#000" stroke-width="1.5"/>
<line x1="557.98" y1="321.6" x2="557.98" y2="318.6" stroke="#000" stroke-width="1.5"/>
<line x1="586.35" y1="321.6" x2="586.35" y2="318.6" stroke="#000" stroke-width="1.5"/>
<line x1="614.71" y1="321.6" x2="614.71" y2="318.6" stroke="#000" stroke-width="1.5"/>
<line x1="643.08" y1="321.6" x2="643.08" y2="318.6" stroke="#000" stroke-width="1.5"/>
<line x1="671.44" y1="321.6" x2="671.44" y2="318.6" stroke="#000" stroke-width="1.5"/>
<line x1="699.81" y1="321.6" x2="699.81" y2="318.6" stroke="#000" stroke-width="1.5"/>
<line x1="543.8" y1="321.60" x2="546.8" y2="321.60" stroke="#000" stroke-width="1.5"/>
<line x1="543.8" y1="298.64" x2="546.8" y2="298.64" stroke="#000" stroke-width="1.5"/>
<line x1="543.8" y1="275.68" x2="546.8" y2="275.68" stroke="#000" stroke-width="1.5"/>
<line x1="543.8" y1="252.72" x2="546.8" y2="252.72" stroke="#000" stroke-width="1.5"/>
<line x1="543.8" y1="229.76" x2="546.8" y2="229.76" stroke="#000" stroke-width="1.5"/>
<line x1="543.8" y1="206.80" x2="546.8" y2="206.80" stroke="#000" stroke-width="1.5"/>
<line x1="543.8" y1="183.84" x2="546.8" y2="183.84" stroke="#000" stroke-width="1.5"/>
<line x1="543.8" y1="310.12" x2="546.8" y2="310.12" stroke="#000" stroke-width="1.5"/>
<line x1="543.8" y1="287.16" x2="546.8" y2="287.16" stroke="#000" stroke-width="1.5"/>
<line x1="543.8" y1="264.20" x2="546.8" y2="264.20" stroke="#000" stroke-width="1.5"/>
<line x1="543.8" y1="241.24" x2="546.8" y2="241.24" stroke="#000" stroke-width="1.5"/>
<line x1="543.8" y1="218.28" x2="546.8" y2="218.28" stroke="#000" stroke-width="1.5"/>
<line x1="543.8" y1="195.32" x2="546.8" y2="195.32" stroke="#000" stroke-width="1.5"/>
<rect x="543.8" y="183.9" width="170.20000000000005" height="137.70000000000002" fill="none" stroke="#000" stroke-width="1.7"/>
<text x="543.80" y="333.1" font-size="10.6" text-anchor="middle" fill="#000" >0</text>
<text x="572.16" y="333.1" font-size="10.6" text-anchor="middle" fill="#000" >5</text>
<text x="600.53" y="333.1" font-size="10.6" text-anchor="middle" fill="#000" >10</text>
<text x="628.89" y="333.1" font-size="10.6" text-anchor="middle" fill="#000" >15</text>
<text x="657.26" y="333.1" font-size="10.6" text-anchor="middle" fill="#000" >20</text>
<text x="685.62" y="333.1" font-size="10.6" text-anchor="middle" fill="#000" >25</text>
<text x="713.99" y="333.1" font-size="10.6" text-anchor="middle" fill="#000" >30</text>
<text x="540.30" y="324.50" font-size="10.6" text-anchor="end" fill="#000" >0</text>
<text x="540.30" y="301.54" font-size="10.6" text-anchor="end" fill="#000" >20</text>
<text x="540.30" y="278.58" font-size="10.6" text-anchor="end" fill="#000" >40</text>
<text x="540.30" y="255.62" font-size="10.6" text-anchor="end" fill="#000" >60</text>
<text x="540.30" y="232.66" font-size="10.6" text-anchor="end" fill="#000" >80</text>
<text x="540.30" y="209.70" font-size="10.6" text-anchor="end" fill="#000" >100</text>
<text x="540.30" y="186.74" font-size="10.6" text-anchor="end" fill="#000" >120</text>
<text x="624.50" y="348.6" font-size="11.8" text-anchor="middle" fill="#000" >Cycle numbers</text>
<text transform="translate(519.00,260.85) rotate(-90)" x="0" y="0" font-size="11.6" text-anchor="middle">Discharge Capacity (mAh g<tspan font-size="7.8" dy="-4.5">-1</tspan><tspan dy="4.5">)</tspan></text>
<text x="483.5" y="196.0" font-size="19" text-anchor="start" fill="#000" >(e)</text>
<g clip-path="url(#cf)">
<polyline points="543.20,213.60 548.87,213.80 554.54,214.60 560.21,215.10 565.88,215.80 571.55,215.80 577.21,215.80 582.88,216.10 588.55,216.10 594.22,216.30 599.89,217.10 605.56,217.30 611.23,217.60 616.90,217.60 622.57,218.30 628.24,218.10 633.90,218.70 639.57,219.40 645.24,220.00 650.91,220.60 656.58,221.50 662.25,223.70 667.92,225.60 673.59,228.10 679.26,229.70 684.93,230.90 690.59,230.90 696.26,233.00 701.93,235.10 707.60,237.10 713.27,239.90" fill="none" stroke="#000000" stroke-width="1"/>
<circle cx="543.20" cy="213.60" r="3.2" fill="url(#gk)"/>
<circle cx="548.87" cy="213.80" r="3.2" fill="url(#gk)"/>
<circle cx="554.54" cy="214.60" r="3.2" fill="url(#gk)"/>
<circle cx="560.21" cy="215.10" r="3.2" fill="url(#gk)"/>
<circle cx="565.88" cy="215.80" r="3.2" fill="url(#gk)"/>
<circle cx="571.55" cy="215.80" r="3.2" fill="url(#gk)"/>
<circle cx="577.21" cy="215.80" r="3.2" fill="url(#gk)"/>
<circle cx="582.88" cy="216.10" r="3.2" fill="url(#gk)"/>
<circle cx="588.55" cy="216.10" r="3.2" fill="url(#gk)"/>
<circle cx="594.22" cy="216.30" r="3.2" fill="url(#gk)"/>
<circle cx="599.89" cy="217.10" r="3.2" fill="url(#gk)"/>
<circle cx="605.56" cy="217.30" r="3.2" fill="url(#gk)"/>
<circle cx="611.23" cy="217.60" r="3.2" fill="url(#gk)"/>
<circle cx="616.90" cy="217.60" r="3.2" fill="url(#gk)"/>
<circle cx="622.57" cy="218.30" r="3.2" fill="url(#gk)"/>
<circle cx="628.24" cy="218.10" r="3.2" fill="url(#gk)"/>
<circle cx="633.90" cy="218.70" r="3.2" fill="url(#gk)"/>
<circle cx="639.57" cy="219.40" r="3.2" fill="url(#gk)"/>
<circle cx="645.24" cy="220.00" r="3.2" fill="url(#gk)"/>
<circle cx="650.91" cy="220.60" r="3.2" fill="url(#gk)"/>
<circle cx="656.58" cy="221.50" r="3.2" fill="url(#gk)"/>
<circle cx="662.25" cy="223.70" r="3.2" fill="url(#gk)"/>
<circle cx="667.92" cy="225.60" r="3.2" fill="url(#gk)"/>
<circle cx="673.59" cy="228.10" r="3.2" fill="url(#gk)"/>
<circle cx="679.26" cy="229.70" r="3.2" fill="url(#gk)"/>
<circle cx="684.93" cy="230.90" r="3.2" fill="url(#gk)"/>
<circle cx="690.59" cy="230.90" r="3.2" fill="url(#gk)"/>
<circle cx="696.26" cy="233.00" r="3.2" fill="url(#gk)"/>
<circle cx="701.93" cy="235.10" r="3.2" fill="url(#gk)"/>
<circle cx="707.60" cy="237.10" r="3.2" fill="url(#gk)"/>
<circle cx="713.27" cy="239.90" r="3.2" fill="url(#gk)"/>
<polyline points="543.20,223.50 548.87,223.54 554.54,223.59 560.21,223.63 565.88,223.68 571.55,223.72 577.21,223.77 582.88,223.81 588.55,223.86 594.22,223.91 599.89,223.95 605.56,224.00 611.23,224.04 616.90,224.09 622.57,224.13 628.24,224.18 633.90,224.22 639.57,224.26 645.24,224.31 650.91,224.35 656.58,224.40 662.25,224.44 667.92,224.49 673.59,224.53 679.26,224.58 684.93,224.62 690.59,224.67 696.26,224.72 701.93,224.76 707.60,224.81 713.27,224.85" fill="none" stroke="#0000ff" stroke-width="1"/>
<circle cx="543.20" cy="223.50" r="3.2" fill="url(#gb)"/>
<circle cx="548.87" cy="223.54" r="3.2" fill="url(#gb)"/>
<circle cx="554.54" cy="223.59" r="3.2" fill="url(#gb)"/>
<circle cx="560.21" cy="223.63" r="3.2" fill="url(#gb)"/>
<circle cx="565.88" cy="223.68" r="3.2" fill="url(#gb)"/>
<circle cx="571.55" cy="223.72" r="3.2" fill="url(#gb)"/>
<circle cx="577.21" cy="223.77" r="3.2" fill="url(#gb)"/>
<circle cx="582.88" cy="223.81" r="3.2" fill="url(#gb)"/>
<circle cx="588.55" cy="223.86" r="3.2" fill="url(#gb)"/>
<circle cx="594.22" cy="223.91" r="3.2" fill="url(#gb)"/>
<circle cx="599.89" cy="223.95" r="3.2" fill="url(#gb)"/>
<circle cx="605.56" cy="224.00" r="3.2" fill="url(#gb)"/>
<circle cx="611.23" cy="224.04" r="3.2" fill="url(#gb)"/>
<circle cx="616.90" cy="224.09" r="3.2" fill="url(#gb)"/>
<circle cx="622.57" cy="224.13" r="3.2" fill="url(#gb)"/>
<circle cx="628.24" cy="224.18" r="3.2" fill="url(#gb)"/>
<circle cx="633.90" cy="224.22" r="3.2" fill="url(#gb)"/>
<circle cx="639.57" cy="224.26" r="3.2" fill="url(#gb)"/>
<circle cx="645.24" cy="224.31" r="3.2" fill="url(#gb)"/>
<circle cx="650.91" cy="224.35" r="3.2" fill="url(#gb)"/>
<circle cx="656.58" cy="224.40" r="3.2" fill="url(#gb)"/>
<circle cx="662.25" cy="224.44" r="3.2" fill="url(#gb)"/>
<circle cx="667.92" cy="224.49" r="3.2" fill="url(#gb)"/>
<circle cx="673.59" cy="224.53" r="3.2" fill="url(#gb)"/>
<circle cx="679.26" cy="224.58" r="3.2" fill="url(#gb)"/>
<circle cx="684.93" cy="224.62" r="3.2" fill="url(#gb)"/>
<circle cx="690.59" cy="224.67" r="3.2" fill="url(#gb)"/>
<circle cx="696.26" cy="224.72" r="3.2" fill="url(#gb)"/>
<circle cx="701.93" cy="224.76" r="3.2" fill="url(#gb)"/>
<circle cx="707.60" cy="224.81" r="3.2" fill="url(#gb)"/>
<circle cx="713.27" cy="224.85" r="3.2" fill="url(#gb)"/>
<polyline points="543.20,198.00 548.87,200.50 554.54,201.40 560.21,201.40 565.88,200.50 571.55,200.50 577.21,201.40 582.88,202.40 588.55,203.00 594.22,203.00 599.89,203.60 605.56,203.60 611.23,204.30 616.90,204.30 622.57,204.90 628.24,204.90 633.90,206.10 639.57,206.80 645.24,207.10 650.91,207.40 656.58,206.80 662.25,207.10 667.92,206.40 673.59,206.40 679.26,207.60 684.93,209.90 690.59,211.40 696.26,210.90 701.93,210.90 707.60,211.40 713.27,212.30" fill="none" stroke="#ff0000" stroke-width="1"/>
<circle cx="543.20" cy="198.00" r="3.2" fill="url(#gr)"/>
<circle cx="548.87" cy="200.50" r="3.2" fill="url(#gr)"/>
<circle cx="554.54" cy="201.40" r="3.2" fill="url(#gr)"/>
<circle cx="560.21" cy="201.40" r="3.2" fill="url(#gr)"/>
<circle cx="565.88" cy="200.50" r="3.2" fill="url(#gr)"/>
<circle cx="571.55" cy="200.50" r="3.2" fill="url(#gr)"/>
<circle cx="577.21" cy="201.40" r="3.2" fill="url(#gr)"/>
<circle cx="582.88" cy="202.40" r="3.2" fill="url(#gr)"/>
<circle cx="588.55" cy="203.00" r="3.2" fill="url(#gr)"/>
<circle cx="594.22" cy="203.00" r="3.2" fill="url(#gr)"/>
<circle cx="599.89" cy="203.60" r="3.2" fill="url(#gr)"/>
<circle cx="605.56" cy="203.60" r="3.2" fill="url(#gr)"/>
<circle cx="611.23" cy="204.30" r="3.2" fill="url(#gr)"/>
<circle cx="616.90" cy="204.30" r="3.2" fill="url(#gr)"/>
<circle cx="622.57" cy="204.90" r="3.2" fill="url(#gr)"/>
<circle cx="628.24" cy="204.90" r="3.2" fill="url(#gr)"/>
<circle cx="633.90" cy="206.10" r="3.2" fill="url(#gr)"/>
<circle cx="639.57" cy="206.80" r="3.2" fill="url(#gr)"/>
<circle cx="645.24" cy="207.10" r="3.2" fill="url(#gr)"/>
<circle cx="650.91" cy="207.40" r="3.2" fill="url(#gr)"/>
<circle cx="656.58" cy="206.80" r="3.2" fill="url(#gr)"/>
<circle cx="662.25" cy="207.10" r="3.2" fill="url(#gr)"/>
<circle cx="667.92" cy="206.40" r="3.2" fill="url(#gr)"/>
<circle cx="673.59" cy="206.40" r="3.2" fill="url(#gr)"/>
<circle cx="679.26" cy="207.60" r="3.2" fill="url(#gr)"/>
<circle cx="684.93" cy="209.90" r="3.2" fill="url(#gr)"/>
<circle cx="690.59" cy="211.40" r="3.2" fill="url(#gr)"/>
<circle cx="696.26" cy="210.90" r="3.2" fill="url(#gr)"/>
<circle cx="701.93" cy="210.90" r="3.2" fill="url(#gr)"/>
<circle cx="707.60" cy="211.40" r="3.2" fill="url(#gr)"/>
<circle cx="713.27" cy="212.30" r="3.2" fill="url(#gr)"/>
<polyline points="543.20,236.10 548.87,238.00 554.54,238.60 560.21,239.90 565.88,241.40 571.55,241.70 577.21,243.00 582.88,243.40 588.55,243.40 594.22,243.80 599.89,244.00 605.56,244.20 611.23,243.80 616.90,243.80 622.57,244.20 628.24,244.60 633.90,244.80 639.57,245.50 645.24,246.10 650.91,247.10 656.58,247.10 662.25,247.60 667.92,247.90 673.59,248.60 679.26,248.60 684.93,249.20 690.59,251.00 696.26,250.80 701.93,251.30 707.60,251.70 713.27,252.00" fill="none" stroke="#008000" stroke-width="1"/>
<circle cx="543.20" cy="236.10" r="3.2" fill="url(#gg)"/>
<circle cx="548.87" cy="238.00" r="3.2" fill="url(#gg)"/>
<circle cx="554.54" cy="238.60" r="3.2" fill="url(#gg)"/>
<circle cx="560.21" cy="239.90" r="3.2" fill="url(#gg)"/>
<circle cx="565.88" cy="241.40" r="3.2" fill="url(#gg)"/>
<circle cx="571.55" cy="241.70" r="3.2" fill="url(#gg)"/>
<circle cx="577.21" cy="243.00" r="3.2" fill="url(#gg)"/>
<circle cx="582.88" cy="243.40" r="3.2" fill="url(#gg)"/>
<circle cx="588.55" cy="243.40" r="3.2" fill="url(#gg)"/>
<circle cx="594.22" cy="243.80" r="3.2" fill="url(#gg)"/>
<circle cx="599.89" cy="244.00" r="3.2" fill="url(#gg)"/>
<circle cx="605.56" cy="244.20" r="3.2" fill="url(#gg)"/>
<circle cx="611.23" cy="243.80" r="3.2" fill="url(#gg)"/>
<circle cx="616.90" cy="243.80" r="3.2" fill="url(#gg)"/>
<circle cx="622.57" cy="244.20" r="3.2" fill="url(#gg)"/>
<circle cx="628.24" cy="244.60" r="3.2" fill="url(#gg)"/>
<circle cx="633.90" cy="244.80" r="3.2" fill="url(#gg)"/>
<circle cx="639.57" cy="245.50" r="3.2" fill="url(#gg)"/>
<circle cx="645.24" cy="246.10" r="3.2" fill="url(#gg)"/>
<circle cx="650.91" cy="247.10" r="3.2" fill="url(#gg)"/>
<circle cx="656.58" cy="247.10" r="3.2" fill="url(#gg)"/>
<circle cx="662.25" cy="247.60" r="3.2" fill="url(#gg)"/>
<circle cx="667.92" cy="247.90" r="3.2" fill="url(#gg)"/>
<circle cx="673.59" cy="248.60" r="3.2" fill="url(#gg)"/>
<circle cx="679.26" cy="248.60" r="3.2" fill="url(#gg)"/>
<circle cx="684.93" cy="249.20" r="3.2" fill="url(#gg)"/>
<circle cx="690.59" cy="251.00" r="3.2" fill="url(#gg)"/>
<circle cx="696.26" cy="250.80" r="3.2" fill="url(#gg)"/>
<circle cx="701.93" cy="251.30" r="3.2" fill="url(#gg)"/>
<circle cx="707.60" cy="251.70" r="3.2" fill="url(#gg)"/>
<circle cx="713.27" cy="252.00" r="3.2" fill="url(#gg)"/>
</g>
<line x1="555.8" y1="266.30" x2="579.7" y2="266.30" stroke="#444" stroke-width="1.2"/>
<circle cx="568" cy="266.30" r="2.7" fill="url(#gk)"/>
<text x="583.0" y="270.30" font-size="10.3" text-anchor="start" fill="#000" >NNM</text>
<line x1="555.8" y1="279.17" x2="579.7" y2="279.17" stroke="#4040ff" stroke-width="1.2"/>
<circle cx="568" cy="279.17" r="2.7" fill="url(#gb)"/>
<text x="583.0" y="283.17" font-size="10.3" text-anchor="start" fill="#000" >NLNM1</text>
<line x1="555.8" y1="292.04" x2="579.7" y2="292.04" stroke="#ff4040" stroke-width="1.2"/>
<circle cx="568" cy="292.04" r="2.7" fill="url(#gr)"/>
<text x="583.0" y="296.04" font-size="10.3" text-anchor="start" fill="#000" >NLNM2</text>
<line x1="555.8" y1="304.91" x2="579.7" y2="304.91" stroke="#309030" stroke-width="1.2"/>
<circle cx="568" cy="304.91" r="2.7" fill="url(#gg)"/>
<text x="583.0" y="308.91" font-size="10.3" text-anchor="start" fill="#000" >NLNM3</text>
</svg></body></html>
